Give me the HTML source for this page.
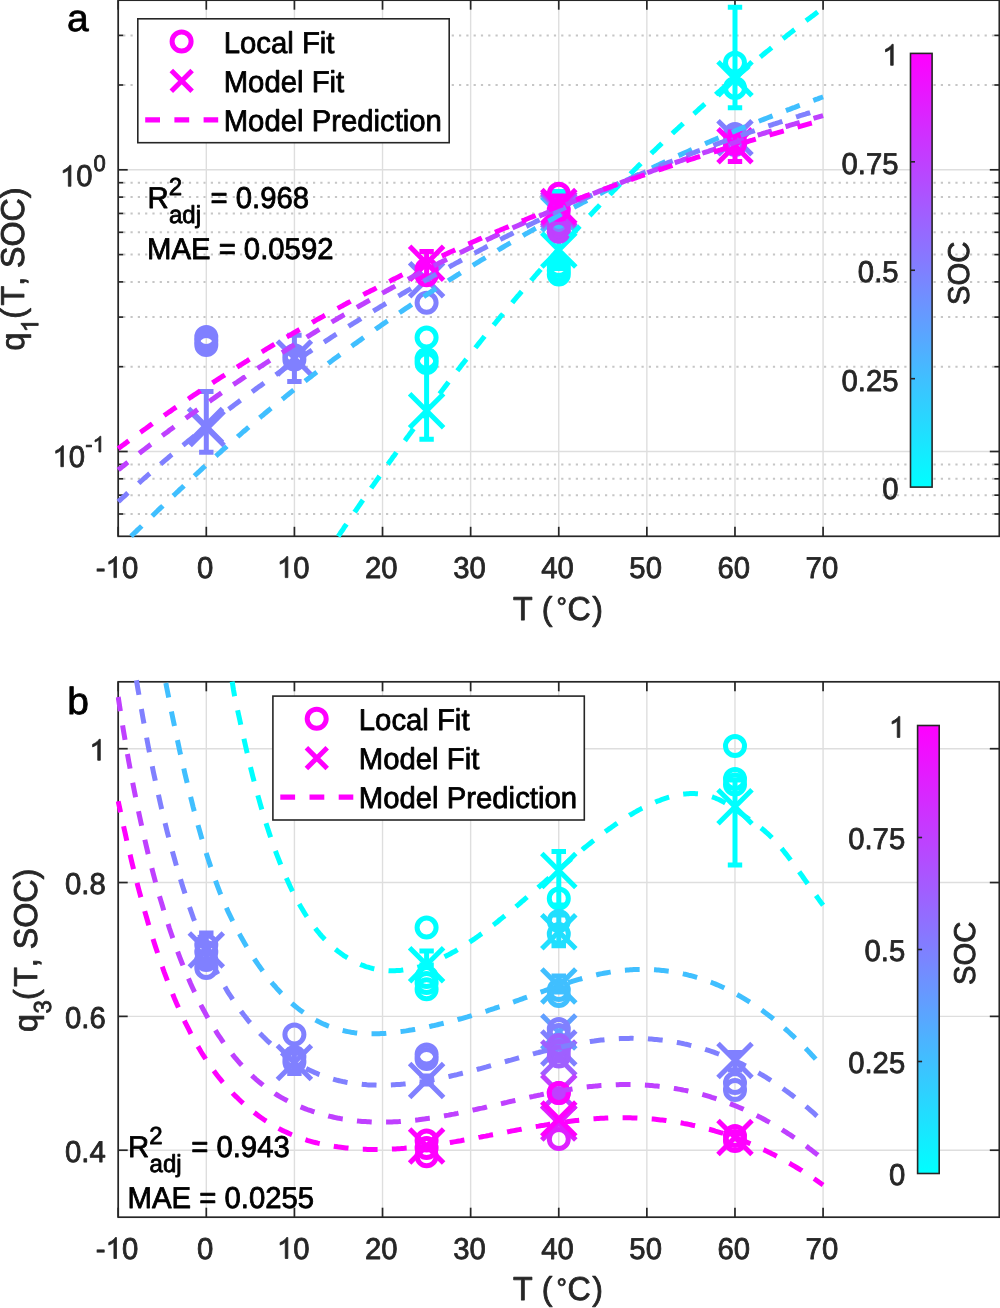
<!DOCTYPE html>
<html><head><meta charset="utf-8"><style>
html,body{margin:0;padding:0;background:#fff;width:1000px;height:1308px;overflow:hidden}
svg{display:block;will-change:transform;text-rendering:geometricPrecision;font-family:"Liberation Sans",sans-serif}
text{stroke-width:0.8px;stroke-linejoin:round;font-kerning:none}
</style></head><body>
<svg width="1000" height="1308" viewBox="0 0 1000 1308" font-family="Liberation Sans, sans-serif">
<defs>
<clipPath id="ca"><rect x="115.7" y="-2.3" width="886.1" height="541.1"/></clipPath>
<clipPath id="cb"><rect x="115.7" y="679.3" width="886.1" height="540.4"/></clipPath>
<linearGradient id="gcool" x1="0" y1="1" x2="0" y2="0"><stop offset="0" stop-color="#00FFFF"/><stop offset="1" stop-color="#FF00FF"/></linearGradient>
</defs>
<rect width="1000" height="1308" fill="#fff"/>
<line x1="122.20" y1="513.99" x2="999.30" y2="513.99" stroke="#C6C6C6" stroke-width="2" stroke-dasharray="2.2 5.1" stroke-dashoffset="-1"/>
<line x1="122.20" y1="495.14" x2="999.30" y2="495.14" stroke="#C6C6C6" stroke-width="2" stroke-dasharray="2.2 5.1" stroke-dashoffset="-1"/>
<line x1="122.20" y1="478.80" x2="999.30" y2="478.80" stroke="#C6C6C6" stroke-width="2" stroke-dasharray="2.2 5.1" stroke-dashoffset="-1"/>
<line x1="122.20" y1="464.39" x2="999.30" y2="464.39" stroke="#C6C6C6" stroke-width="2" stroke-dasharray="2.2 5.1" stroke-dashoffset="-1"/>
<line x1="122.20" y1="366.70" x2="999.30" y2="366.70" stroke="#C6C6C6" stroke-width="2" stroke-dasharray="2.2 5.1" stroke-dashoffset="-1"/>
<line x1="122.20" y1="317.09" x2="999.30" y2="317.09" stroke="#C6C6C6" stroke-width="2" stroke-dasharray="2.2 5.1" stroke-dashoffset="-1"/>
<line x1="122.20" y1="281.90" x2="999.30" y2="281.90" stroke="#C6C6C6" stroke-width="2" stroke-dasharray="2.2 5.1" stroke-dashoffset="-1"/>
<line x1="122.20" y1="254.60" x2="999.30" y2="254.60" stroke="#C6C6C6" stroke-width="2" stroke-dasharray="2.2 5.1" stroke-dashoffset="-1"/>
<line x1="122.20" y1="232.29" x2="999.30" y2="232.29" stroke="#C6C6C6" stroke-width="2" stroke-dasharray="2.2 5.1" stroke-dashoffset="-1"/>
<line x1="122.20" y1="213.44" x2="999.30" y2="213.44" stroke="#C6C6C6" stroke-width="2" stroke-dasharray="2.2 5.1" stroke-dashoffset="-1"/>
<line x1="122.20" y1="197.10" x2="999.30" y2="197.10" stroke="#C6C6C6" stroke-width="2" stroke-dasharray="2.2 5.1" stroke-dashoffset="-1"/>
<line x1="122.20" y1="182.69" x2="999.30" y2="182.69" stroke="#C6C6C6" stroke-width="2" stroke-dasharray="2.2 5.1" stroke-dashoffset="-1"/>
<line x1="122.20" y1="85.00" x2="999.30" y2="85.00" stroke="#C6C6C6" stroke-width="2" stroke-dasharray="2.2 5.1" stroke-dashoffset="-1"/>
<line x1="122.20" y1="35.39" x2="999.30" y2="35.39" stroke="#C6C6C6" stroke-width="2" stroke-dasharray="2.2 5.1" stroke-dashoffset="-1"/>
<line x1="118.20" y1="0.20" x2="118.20" y2="536.30" stroke="#DEDEDE" stroke-width="1.4"/>
<line x1="206.31" y1="0.20" x2="206.31" y2="536.30" stroke="#DEDEDE" stroke-width="1.4"/>
<line x1="294.42" y1="0.20" x2="294.42" y2="536.30" stroke="#DEDEDE" stroke-width="1.4"/>
<line x1="382.53" y1="0.20" x2="382.53" y2="536.30" stroke="#DEDEDE" stroke-width="1.4"/>
<line x1="470.64" y1="0.20" x2="470.64" y2="536.30" stroke="#DEDEDE" stroke-width="1.4"/>
<line x1="558.75" y1="0.20" x2="558.75" y2="536.30" stroke="#DEDEDE" stroke-width="1.4"/>
<line x1="646.86" y1="0.20" x2="646.86" y2="536.30" stroke="#DEDEDE" stroke-width="1.4"/>
<line x1="734.97" y1="0.20" x2="734.97" y2="536.30" stroke="#DEDEDE" stroke-width="1.4"/>
<line x1="823.08" y1="0.20" x2="823.08" y2="536.30" stroke="#DEDEDE" stroke-width="1.4"/>
<line x1="118.20" y1="451.50" x2="999.30" y2="451.50" stroke="#DEDEDE" stroke-width="1.4"/>
<line x1="118.20" y1="169.80" x2="999.30" y2="169.80" stroke="#DEDEDE" stroke-width="1.4"/>
<rect x="118.20" y="0.20" width="881.10" height="536.10" fill="none" stroke="#262626" stroke-width="1.7"/>
<line x1="118.20" y1="536.30" x2="118.20" y2="526.80" stroke="#262626" stroke-width="1.7"/>
<line x1="118.20" y1="0.20" x2="118.20" y2="9.70" stroke="#262626" stroke-width="1.7"/>
<line x1="206.31" y1="536.30" x2="206.31" y2="526.80" stroke="#262626" stroke-width="1.7"/>
<line x1="206.31" y1="0.20" x2="206.31" y2="9.70" stroke="#262626" stroke-width="1.7"/>
<line x1="294.42" y1="536.30" x2="294.42" y2="526.80" stroke="#262626" stroke-width="1.7"/>
<line x1="294.42" y1="0.20" x2="294.42" y2="9.70" stroke="#262626" stroke-width="1.7"/>
<line x1="382.53" y1="536.30" x2="382.53" y2="526.80" stroke="#262626" stroke-width="1.7"/>
<line x1="382.53" y1="0.20" x2="382.53" y2="9.70" stroke="#262626" stroke-width="1.7"/>
<line x1="470.64" y1="536.30" x2="470.64" y2="526.80" stroke="#262626" stroke-width="1.7"/>
<line x1="470.64" y1="0.20" x2="470.64" y2="9.70" stroke="#262626" stroke-width="1.7"/>
<line x1="558.75" y1="536.30" x2="558.75" y2="526.80" stroke="#262626" stroke-width="1.7"/>
<line x1="558.75" y1="0.20" x2="558.75" y2="9.70" stroke="#262626" stroke-width="1.7"/>
<line x1="646.86" y1="536.30" x2="646.86" y2="526.80" stroke="#262626" stroke-width="1.7"/>
<line x1="646.86" y1="0.20" x2="646.86" y2="9.70" stroke="#262626" stroke-width="1.7"/>
<line x1="734.97" y1="536.30" x2="734.97" y2="526.80" stroke="#262626" stroke-width="1.7"/>
<line x1="734.97" y1="0.20" x2="734.97" y2="9.70" stroke="#262626" stroke-width="1.7"/>
<line x1="823.08" y1="536.30" x2="823.08" y2="526.80" stroke="#262626" stroke-width="1.7"/>
<line x1="823.08" y1="0.20" x2="823.08" y2="9.70" stroke="#262626" stroke-width="1.7"/>
<line x1="118.20" y1="451.50" x2="127.70" y2="451.50" stroke="#262626" stroke-width="1.7"/>
<line x1="999.30" y1="451.50" x2="989.80" y2="451.50" stroke="#262626" stroke-width="1.7"/>
<line x1="118.20" y1="169.80" x2="127.70" y2="169.80" stroke="#262626" stroke-width="1.7"/>
<line x1="999.30" y1="169.80" x2="989.80" y2="169.80" stroke="#262626" stroke-width="1.7"/>
<line x1="118.20" y1="513.99" x2="123.20" y2="513.99" stroke="#262626" stroke-width="1.7"/>
<line x1="999.30" y1="513.99" x2="994.30" y2="513.99" stroke="#262626" stroke-width="1.7"/>
<line x1="118.20" y1="495.14" x2="123.20" y2="495.14" stroke="#262626" stroke-width="1.7"/>
<line x1="999.30" y1="495.14" x2="994.30" y2="495.14" stroke="#262626" stroke-width="1.7"/>
<line x1="118.20" y1="478.80" x2="123.20" y2="478.80" stroke="#262626" stroke-width="1.7"/>
<line x1="999.30" y1="478.80" x2="994.30" y2="478.80" stroke="#262626" stroke-width="1.7"/>
<line x1="118.20" y1="464.39" x2="123.20" y2="464.39" stroke="#262626" stroke-width="1.7"/>
<line x1="999.30" y1="464.39" x2="994.30" y2="464.39" stroke="#262626" stroke-width="1.7"/>
<line x1="118.20" y1="366.70" x2="123.20" y2="366.70" stroke="#262626" stroke-width="1.7"/>
<line x1="999.30" y1="366.70" x2="994.30" y2="366.70" stroke="#262626" stroke-width="1.7"/>
<line x1="118.20" y1="317.09" x2="123.20" y2="317.09" stroke="#262626" stroke-width="1.7"/>
<line x1="999.30" y1="317.09" x2="994.30" y2="317.09" stroke="#262626" stroke-width="1.7"/>
<line x1="118.20" y1="281.90" x2="123.20" y2="281.90" stroke="#262626" stroke-width="1.7"/>
<line x1="999.30" y1="281.90" x2="994.30" y2="281.90" stroke="#262626" stroke-width="1.7"/>
<line x1="118.20" y1="254.60" x2="123.20" y2="254.60" stroke="#262626" stroke-width="1.7"/>
<line x1="999.30" y1="254.60" x2="994.30" y2="254.60" stroke="#262626" stroke-width="1.7"/>
<line x1="118.20" y1="232.29" x2="123.20" y2="232.29" stroke="#262626" stroke-width="1.7"/>
<line x1="999.30" y1="232.29" x2="994.30" y2="232.29" stroke="#262626" stroke-width="1.7"/>
<line x1="118.20" y1="213.44" x2="123.20" y2="213.44" stroke="#262626" stroke-width="1.7"/>
<line x1="999.30" y1="213.44" x2="994.30" y2="213.44" stroke="#262626" stroke-width="1.7"/>
<line x1="118.20" y1="197.10" x2="123.20" y2="197.10" stroke="#262626" stroke-width="1.7"/>
<line x1="999.30" y1="197.10" x2="994.30" y2="197.10" stroke="#262626" stroke-width="1.7"/>
<line x1="118.20" y1="182.69" x2="123.20" y2="182.69" stroke="#262626" stroke-width="1.7"/>
<line x1="999.30" y1="182.69" x2="994.30" y2="182.69" stroke="#262626" stroke-width="1.7"/>
<line x1="118.20" y1="85.00" x2="123.20" y2="85.00" stroke="#262626" stroke-width="1.7"/>
<line x1="999.30" y1="85.00" x2="994.30" y2="85.00" stroke="#262626" stroke-width="1.7"/>
<line x1="118.20" y1="35.39" x2="123.20" y2="35.39" stroke="#262626" stroke-width="1.7"/>
<line x1="999.30" y1="35.39" x2="994.30" y2="35.39" stroke="#262626" stroke-width="1.7"/>
<circle cx="426.6" cy="337.6" r="9.5" fill="none" stroke="#00FFFF" stroke-width="5"/>
<circle cx="426.6" cy="359.0" r="9.5" fill="none" stroke="#00FFFF" stroke-width="5"/>
<circle cx="426.6" cy="363.0" r="9.5" fill="none" stroke="#00FFFF" stroke-width="5"/>
<path d="M426.6,352.0L426.6,439.2M419.4,352.0L433.8,352.0M419.4,439.2L433.8,439.2" stroke="#00FFFF" stroke-width="5" fill="none"/>
<path d="M409.6,393.7L443.6,427.7M409.6,427.7L443.6,393.7" stroke="#00FFFF" stroke-width="5" fill="none"/>
<circle cx="558.8" cy="266.0" r="9.5" fill="none" stroke="#00FFFF" stroke-width="5"/>
<circle cx="558.8" cy="270.5" r="9.5" fill="none" stroke="#00FFFF" stroke-width="5"/>
<circle cx="558.8" cy="274.5" r="9.5" fill="none" stroke="#00FFFF" stroke-width="5"/>
<path d="M558.8,191.5L558.8,268.5M551.5,191.5L566.0,191.5M551.5,268.5L566.0,268.5" stroke="#00FFFF" stroke-width="5" fill="none"/>
<path d="M541.8,233.1L575.8,267.1M541.8,267.1L575.8,233.1" stroke="#00FFFF" stroke-width="5" fill="none"/>
<circle cx="735.0" cy="62.7" r="9.5" fill="none" stroke="#00FFFF" stroke-width="5"/>
<circle cx="735.0" cy="87.9" r="9.5" fill="none" stroke="#00FFFF" stroke-width="5"/>
<path d="M735.0,7.3L735.0,107.8M727.8,7.3L742.2,7.3M727.8,107.8L742.2,107.8" stroke="#00FFFF" stroke-width="5" fill="none"/>
<path d="M718.0,61.7L752.0,95.7M718.0,95.7L752.0,61.7" stroke="#00FFFF" stroke-width="5" fill="none"/>
<path d="M541.8,197.0L575.8,231.0M541.8,231.0L575.8,197.0" stroke="#40BFFF" stroke-width="5" fill="none"/>
<circle cx="558.8" cy="218.0" r="9.5" fill="none" stroke="#40BFFF" stroke-width="5"/>
<circle cx="206.3" cy="337.0" r="9.5" fill="none" stroke="#8080FF" stroke-width="5"/>
<circle cx="206.3" cy="341.0" r="9.5" fill="none" stroke="#8080FF" stroke-width="5"/>
<circle cx="206.3" cy="345.0" r="9.5" fill="none" stroke="#8080FF" stroke-width="5"/>
<path d="M206.3,391.4L206.3,452.2M199.1,391.4L213.5,391.4M199.1,452.2L213.5,452.2" stroke="#8080FF" stroke-width="5" fill="none"/>
<path d="M188.5,408.5L222.5,442.5M188.5,442.5L222.5,408.5" stroke="#8080FF" stroke-width="5" fill="none"/>
<path d="M190.1,411.5L224.1,445.5M190.1,445.5L224.1,411.5" stroke="#8080FF" stroke-width="5" fill="none"/>
<circle cx="294.4" cy="355.3" r="9.5" fill="none" stroke="#8080FF" stroke-width="5"/>
<circle cx="294.4" cy="359.5" r="9.5" fill="none" stroke="#8080FF" stroke-width="5"/>
<path d="M294.4,335.2L294.4,381.5M287.2,335.2L301.6,335.2M287.2,381.5L301.6,381.5" stroke="#8080FF" stroke-width="5" fill="none"/>
<path d="M277.4,341.0L311.4,375.0M277.4,375.0L311.4,341.0" stroke="#8080FF" stroke-width="5" fill="none"/>
<circle cx="426.6" cy="302.8" r="9.5" fill="none" stroke="#8080FF" stroke-width="5"/>
<path d="M409.6,262.7L443.6,296.7M409.6,296.7L443.6,262.7" stroke="#8080FF" stroke-width="5" fill="none"/>
<path d="M541.8,194.0L575.8,228.0M541.8,228.0L575.8,194.0" stroke="#8080FF" stroke-width="5" fill="none"/>
<circle cx="558.8" cy="222.0" r="9.5" fill="none" stroke="#8080FF" stroke-width="5"/>
<path d="M735.0,128.5L735.0,150.0M727.8,128.5L742.2,128.5M727.8,150.0L742.2,150.0" stroke="#8080FF" stroke-width="5" fill="none"/>
<circle cx="735.0" cy="134.0" r="9.5" fill="none" stroke="#8080FF" stroke-width="5"/>
<circle cx="735.0" cy="145.0" r="9.5" fill="none" stroke="#8080FF" stroke-width="5"/>
<path d="M718.0,120.7L752.0,154.7M718.0,154.7L752.0,120.7" stroke="#8080FF" stroke-width="5" fill="none"/>
<path d="M558.8,197.5L558.8,221.0M551.5,197.5L566.0,197.5M551.5,221.0L566.0,221.0" stroke="#BF40FF" stroke-width="5" fill="none"/>
<path d="M541.8,192.0L575.8,226.0M541.8,226.0L575.8,192.0" stroke="#BF40FF" stroke-width="5" fill="none"/>
<circle cx="558.8" cy="225.0" r="9.5" fill="none" stroke="#BF40FF" stroke-width="5"/>
<circle cx="558.8" cy="228.5" r="9.5" fill="none" stroke="#BF40FF" stroke-width="5"/>
<circle cx="558.8" cy="231.8" r="9.5" fill="none" stroke="#BF40FF" stroke-width="5"/>
<circle cx="735.0" cy="141.0" r="9.5" fill="none" stroke="#BF40FF" stroke-width="5"/>
<circle cx="426.6" cy="269.3" r="9.5" fill="none" stroke="#FF00FF" stroke-width="5"/>
<circle cx="426.6" cy="275.2" r="9.5" fill="none" stroke="#FF00FF" stroke-width="5"/>
<path d="M426.6,251.4L426.6,276.0M419.4,251.4L433.8,251.4M419.4,276.0L433.8,276.0" stroke="#FF00FF" stroke-width="5" fill="none"/>
<path d="M409.6,246.3L443.6,280.3M409.6,280.3L443.6,246.3" stroke="#FF00FF" stroke-width="5" fill="none"/>
<circle cx="558.8" cy="193.8" r="9.5" fill="none" stroke="#FF00FF" stroke-width="5"/>
<circle cx="558.8" cy="210.0" r="9.5" fill="none" stroke="#FF00FF" stroke-width="5"/>
<path d="M558.8,196.0L558.8,218.0M551.5,196.0L566.0,196.0M551.5,218.0L566.0,218.0" stroke="#FF00FF" stroke-width="5" fill="none"/>
<path d="M541.8,189.5L575.8,223.5M541.8,223.5L575.8,189.5" stroke="#FF00FF" stroke-width="5" fill="none"/>
<circle cx="735.0" cy="144.0" r="9.5" fill="none" stroke="#FF00FF" stroke-width="5"/>
<path d="M735.0,132.0L735.0,161.5M727.8,132.0L742.2,132.0M727.8,161.5L742.2,161.5" stroke="#FF00FF" stroke-width="5" fill="none"/>
<path d="M718.0,128.8L752.0,162.8M718.0,162.8L752.0,128.8" stroke="#FF00FF" stroke-width="5" fill="none"/>
<path d="M330.0,548.7 L331.2,546.8 L332.5,545.0 L333.7,543.1 L334.9,541.3 L336.2,539.4 L337.4,537.6 L338.7,535.7 L339.9,533.9 L341.1,532.0 L342.4,530.2 L343.6,528.4 L344.8,526.5 L346.1,524.7 L347.3,522.9 L348.5,521.1 L349.8,519.2 L351.0,517.4 L352.2,515.6 L353.5,513.8 L354.7,512.0 L356.0,510.2 L357.2,508.4 L358.4,506.6 L359.7,504.8 L360.9,503.0 L362.1,501.2 L363.4,499.4 L364.6,497.6 L365.8,495.8 L367.1,494.0 L368.3,492.2 L369.5,490.4 L370.8,488.7 L372.0,486.9 L373.3,485.1 L374.5,483.3 L375.7,481.6 L377.0,479.8 L378.2,478.1 L379.4,476.3 L380.7,474.5 L381.9,472.8 L383.1,471.0 L384.4,469.3 L385.6,467.5 L386.8,465.8 L388.1,464.1 L389.3,462.3 L390.6,460.6 L391.8,458.8 L393.0,457.1 L394.3,455.4 L395.5,453.7 L396.7,451.9 L398.0,450.2 L399.2,448.5 L400.4,446.8 L401.7,445.1 L402.9,443.4 L404.1,441.7 L405.4,440.0 L406.6,438.3 L407.9,436.6 L409.1,434.9 L410.3,433.2 L411.6,431.5 L412.8,429.8 L414.0,428.1 L415.3,426.4 L416.5,424.7 L417.7,423.1 L419.0,421.4 L420.2,419.7 L421.4,418.0 L422.7,416.4 L423.9,414.7 L425.2,413.1 L426.4,411.4 L427.6,409.7 L428.9,408.1 L430.1,406.4 L431.3,404.8 L432.6,403.1 L433.8,401.5 L435.0,399.9 L436.3,398.2 L437.5,396.6 L438.7,395.0 L440.0,393.3 L441.2,391.7 L442.5,390.1 L443.7,388.4 L444.9,386.8 L446.2,385.2 L447.4,383.6 L448.6,382.0 L449.9,380.4 L451.1,378.8 L452.3,377.2 L453.6,375.6 L454.8,374.0 L456.1,372.4 L457.3,370.8 L458.5,369.2 L459.8,367.6 L461.0,366.0 L462.2,364.4 L463.5,362.9 L464.7,361.3 L465.9,359.7 L467.2,358.1 L468.4,356.6 L469.6,355.0 L470.9,353.4 L472.1,351.9 L473.4,350.3 L474.6,348.8 L475.8,347.2 L477.1,345.7 L478.3,344.1 L479.5,342.6 L480.8,341.0 L482.0,339.5 L483.2,338.0 L484.5,336.4 L485.7,334.9 L486.9,333.4 L488.2,331.8 L489.4,330.3 L490.7,328.8 L491.9,327.3 L493.1,325.8 L494.4,324.2 L495.6,322.7 L496.8,321.2 L498.1,319.7 L499.3,318.2 L500.5,316.7 L501.8,315.2 L503.0,313.7 L504.2,312.2 L505.5,310.8 L506.7,309.3 L508.0,307.8 L509.2,306.3 L510.4,304.8 L511.7,303.4 L512.9,301.9 L514.1,300.4 L515.4,298.9 L516.6,297.5 L517.8,296.0 L519.1,294.6 L520.3,293.1 L521.5,291.6 L522.8,290.2 L524.0,288.8 L525.3,287.3 L526.5,285.9 L527.7,284.4 L529.0,283.0 L530.2,281.6 L531.4,280.1 L532.7,278.7 L533.9,277.3 L535.1,275.8 L536.4,274.4 L537.6,273.0 L538.8,271.6 L540.1,270.2 L541.3,268.8 L542.6,267.4 L543.8,265.9 L545.0,264.5 L546.3,263.1 L547.5,261.8 L548.7,260.4 L550.0,259.0 L551.2,257.6 L552.4,256.2 L553.7,254.8 L554.9,253.4 L556.1,252.0 L557.4,250.7 L558.6,249.3 L559.9,247.9 L561.1,246.6 L562.3,245.2 L563.6,243.8 L564.8,242.5 L566.0,241.1 L567.3,239.8 L568.5,238.4 L569.7,237.1 L571.0,235.7 L572.2,234.4 L573.5,233.0 L574.7,231.7 L575.9,230.3 L577.2,229.0 L578.4,227.7 L579.6,226.3 L580.9,225.0 L582.1,223.7 L583.3,222.4 L584.6,221.1 L585.8,219.7 L587.0,218.4 L588.3,217.1 L589.5,215.8 L590.8,214.5 L592.0,213.2 L593.2,211.9 L594.5,210.6 L595.7,209.3 L596.9,208.0 L598.2,206.7 L599.4,205.4 L600.6,204.1 L601.9,202.8 L603.1,201.6 L604.3,200.3 L605.6,199.0 L606.8,197.7 L608.1,196.5 L609.3,195.2 L610.5,193.9 L611.8,192.7 L613.0,191.4 L614.2,190.1 L615.5,188.9 L616.7,187.6 L617.9,186.4 L619.2,185.1 L620.4,183.9 L621.6,182.6 L622.9,181.4 L624.1,180.1 L625.4,178.9 L626.6,177.7 L627.8,176.4 L629.1,175.2 L630.3,174.0 L631.5,172.7 L632.8,171.5 L634.0,170.3 L635.2,169.1 L636.5,167.9 L637.7,166.6 L638.9,165.4 L640.2,164.2 L641.4,163.0 L642.7,161.8 L643.9,160.6 L645.1,159.4 L646.4,158.2 L647.6,157.0 L648.8,155.8 L650.1,154.6 L651.3,153.4 L652.5,152.2 L653.8,151.1 L655.0,149.9 L656.2,148.7 L657.5,147.5 L658.7,146.3 L660.0,145.2 L661.2,144.0 L662.4,142.8 L663.7,141.7 L664.9,140.5 L666.1,139.3 L667.4,138.2 L668.6,137.0 L669.8,135.9 L671.1,134.7 L672.3,133.5 L673.5,132.4 L674.8,131.2 L676.0,130.1 L677.3,129.0 L678.5,127.8 L679.7,126.7 L681.0,125.5 L682.2,124.4 L683.4,123.3 L684.7,122.1 L685.9,121.0 L687.1,119.9 L688.4,118.8 L689.6,117.6 L690.9,116.5 L692.1,115.4 L693.3,114.3 L694.6,113.2 L695.8,112.1 L697.0,111.0 L698.3,109.8 L699.5,108.7 L700.7,107.6 L702.0,106.5 L703.2,105.4 L704.4,104.3 L705.7,103.2 L706.9,102.2 L708.2,101.1 L709.4,100.0 L710.6,98.9 L711.9,97.8 L713.1,96.7 L714.3,95.6 L715.6,94.6 L716.8,93.5 L718.0,92.4 L719.3,91.3 L720.5,90.3 L721.7,89.2 L723.0,88.1 L724.2,87.1 L725.5,86.0 L726.7,85.0 L727.9,83.9 L729.2,82.8 L730.4,81.8 L731.6,80.7 L732.9,79.7 L734.1,78.6 L735.3,77.6 L736.6,76.5 L737.8,75.5 L739.0,74.5 L740.3,73.4 L741.5,72.4 L742.8,71.3 L744.0,70.3 L745.2,69.3 L746.5,68.3 L747.7,67.2 L748.9,66.2 L750.2,65.2 L751.4,64.2 L752.6,63.1 L753.9,62.1 L755.1,61.1 L756.3,60.1 L757.6,59.1 L758.8,58.1 L760.1,57.1 L761.3,56.1 L762.5,55.1 L763.8,54.0 L765.0,53.0 L766.2,52.0 L767.5,51.1 L768.7,50.1 L769.9,49.1 L771.2,48.1 L772.4,47.1 L773.6,46.1 L774.9,45.1 L776.1,44.1 L777.4,43.1 L778.6,42.2 L779.8,41.2 L781.1,40.2 L782.3,39.2 L783.5,38.3 L784.8,37.3 L786.0,36.3 L787.2,35.3 L788.5,34.4 L789.7,33.4 L790.9,32.4 L792.2,31.5 L793.4,30.5 L794.7,29.6 L795.9,28.6 L797.1,27.7 L798.4,26.7 L799.6,25.8 L800.8,24.8 L802.1,23.9 L803.3,22.9 L804.5,22.0 L805.8,21.0 L807.0,20.1 L808.3,19.1 L809.5,18.2 L810.7,17.3 L812.0,16.3 L813.2,15.4 L814.4,14.5 L815.7,13.5 L816.9,12.6 L818.1,11.7 L819.4,10.8 L820.6,9.8 L821.8,8.9 L823.1,8.0" fill="none" stroke="#00FFFF" stroke-width="5" stroke-dasharray="14.80 14.35" stroke-dashoffset="14.29" clip-path="url(#ca)"/>
<path d="M118.2,548.5 L120.0,546.8 L121.7,545.1 L123.5,543.4 L125.3,541.7 L127.0,540.1 L128.8,538.4 L130.6,536.7 L132.3,535.0 L134.1,533.3 L135.9,531.6 L137.6,529.9 L139.4,528.2 L141.2,526.5 L142.9,524.8 L144.7,523.1 L146.5,521.4 L148.2,519.7 L150.0,518.1 L151.8,516.4 L153.5,514.7 L155.3,513.0 L157.1,511.3 L158.8,509.6 L160.6,507.9 L162.4,506.2 L164.1,504.5 L165.9,502.9 L167.7,501.2 L169.4,499.5 L171.2,497.8 L173.0,496.1 L174.7,494.5 L176.5,492.8 L178.3,491.1 L180.0,489.4 L181.8,487.8 L183.6,486.1 L185.3,484.4 L187.1,482.8 L188.9,481.1 L190.6,479.5 L192.4,477.8 L194.2,476.2 L195.9,474.5 L197.7,472.9 L199.5,471.2 L201.2,469.6 L203.0,467.9 L204.8,466.3 L206.5,464.7 L208.3,463.1 L210.1,461.4 L211.8,459.8 L213.6,458.2 L215.4,456.6 L217.1,455.0 L218.9,453.4 L220.7,451.8 L222.4,450.2 L224.2,448.6 L226.0,447.1 L227.7,445.5 L229.5,443.9 L231.3,442.3 L233.0,440.8 L234.8,439.2 L236.6,437.7 L238.3,436.1 L240.1,434.6 L241.9,433.0 L243.6,431.5 L245.4,430.0 L247.2,428.4 L248.9,426.9 L250.7,425.4 L252.5,423.9 L254.2,422.4 L256.0,420.9 L257.8,419.4 L259.5,417.9 L261.3,416.4 L263.1,415.0 L264.8,413.5 L266.6,412.0 L268.4,410.5 L270.1,409.1 L271.9,407.6 L273.7,406.2 L275.4,404.7 L277.2,403.3 L279.0,401.8 L280.7,400.4 L282.5,399.0 L284.3,397.6 L286.0,396.1 L287.8,394.7 L289.6,393.3 L291.3,391.9 L293.1,390.5 L294.9,389.1 L296.6,387.7 L298.4,386.3 L300.2,384.9 L301.9,383.5 L303.7,382.2 L305.5,380.8 L307.2,379.4 L309.0,378.1 L310.8,376.7 L312.5,375.3 L314.3,374.0 L316.1,372.6 L317.8,371.3 L319.6,369.9 L321.4,368.6 L323.1,367.3 L324.9,365.9 L326.7,364.6 L328.4,363.3 L330.2,362.0 L332.0,360.6 L333.7,359.3 L335.5,358.0 L337.3,356.7 L339.0,355.4 L340.8,354.1 L342.6,352.8 L344.3,351.5 L346.1,350.2 L347.9,349.0 L349.6,347.7 L351.4,346.4 L353.2,345.1 L354.9,343.8 L356.7,342.6 L358.5,341.3 L360.2,340.1 L362.0,338.8 L363.8,337.5 L365.5,336.3 L367.3,335.0 L369.1,333.8 L370.8,332.5 L372.6,331.3 L374.4,330.1 L376.1,328.8 L377.9,327.6 L379.7,326.4 L381.4,325.1 L383.2,323.9 L385.0,322.7 L386.7,321.5 L388.5,320.3 L390.3,319.0 L392.0,317.8 L393.8,316.6 L395.6,315.4 L397.3,314.2 L399.1,313.0 L400.9,311.8 L402.6,310.6 L404.4,309.4 L406.2,308.2 L407.9,307.1 L409.7,305.9 L411.5,304.7 L413.2,303.5 L415.0,302.3 L416.8,301.2 L418.5,300.0 L420.3,298.8 L422.1,297.7 L423.8,296.5 L425.6,295.4 L427.4,294.2 L429.1,293.0 L430.9,291.9 L432.7,290.7 L434.4,289.6 L436.2,288.5 L438.0,287.3 L439.7,286.2 L441.5,285.0 L443.3,283.9 L445.0,282.8 L446.8,281.7 L448.6,280.5 L450.3,279.4 L452.1,278.3 L453.9,277.2 L455.6,276.1 L457.4,274.9 L459.2,273.8 L460.9,272.7 L462.7,271.6 L464.5,270.5 L466.2,269.4 L468.0,268.3 L469.8,267.2 L471.5,266.2 L473.3,265.1 L475.1,264.0 L476.8,262.9 L478.6,261.8 L480.4,260.7 L482.1,259.7 L483.9,258.6 L485.7,257.5 L487.4,256.5 L489.2,255.4 L491.0,254.3 L492.7,253.3 L494.5,252.2 L496.3,251.2 L498.0,250.1 L499.8,249.1 L501.6,248.0 L503.3,247.0 L505.1,245.9 L506.9,244.9 L508.6,243.9 L510.4,242.8 L512.2,241.8 L513.9,240.8 L515.7,239.7 L517.5,238.7 L519.2,237.7 L521.0,236.7 L522.8,235.7 L524.5,234.6 L526.3,233.6 L528.1,232.6 L529.8,231.6 L531.6,230.6 L533.4,229.6 L535.1,228.6 L536.9,227.6 L538.7,226.6 L540.4,225.6 L542.2,224.6 L544.0,223.7 L545.7,222.7 L547.5,221.7 L549.3,220.7 L551.0,219.7 L552.8,218.8 L554.6,217.8 L556.3,216.8 L558.1,215.9 L559.9,214.9 L561.6,213.9 L563.4,213.0 L565.2,212.0 L566.9,211.1 L568.7,210.1 L570.5,209.2 L572.2,208.2 L574.0,207.3 L575.8,206.3 L577.5,205.4 L579.3,204.5 L581.1,203.5 L582.8,202.6 L584.6,201.7 L586.4,200.7 L588.1,199.8 L589.9,198.9 L591.7,198.0 L593.4,197.0 L595.2,196.1 L597.0,195.2 L598.7,194.3 L600.5,193.4 L602.3,192.5 L604.0,191.6 L605.8,190.7 L607.6,189.8 L609.3,188.9 L611.1,188.0 L612.9,187.1 L614.6,186.2 L616.4,185.3 L618.2,184.4 L619.9,183.6 L621.7,182.7 L623.5,181.8 L625.2,180.9 L627.0,180.0 L628.8,179.2 L630.5,178.3 L632.3,177.4 L634.1,176.6 L635.8,175.7 L637.6,174.9 L639.4,174.0 L641.1,173.1 L642.9,172.3 L644.7,171.4 L646.4,170.6 L648.2,169.7 L650.0,168.9 L651.7,168.1 L653.5,167.2 L655.3,166.4 L657.0,165.6 L658.8,164.7 L660.6,163.9 L662.3,163.1 L664.1,162.2 L665.9,161.4 L667.6,160.6 L669.4,159.8 L671.2,159.0 L672.9,158.1 L674.7,157.3 L676.5,156.5 L678.2,155.7 L680.0,154.9 L681.8,154.1 L683.5,153.3 L685.3,152.5 L687.1,151.7 L688.8,150.9 L690.6,150.1 L692.4,149.3 L694.1,148.6 L695.9,147.8 L697.7,147.0 L699.4,146.2 L701.2,145.4 L703.0,144.7 L704.7,143.9 L706.5,143.1 L708.2,142.3 L710.0,141.6 L711.8,140.8 L713.5,140.0 L715.3,139.3 L717.1,138.5 L718.8,137.8 L720.6,137.0 L722.4,136.3 L724.1,135.5 L725.9,134.8 L727.7,134.0 L729.4,133.3 L731.2,132.5 L733.0,131.8 L734.7,131.1 L736.5,130.3 L738.3,129.6 L740.0,128.9 L741.8,128.1 L743.6,127.4 L745.3,126.7 L747.1,126.0 L748.9,125.2 L750.6,124.5 L752.4,123.8 L754.2,123.1 L755.9,122.4 L757.7,121.7 L759.5,121.0 L761.2,120.3 L763.0,119.6 L764.8,118.9 L766.5,118.2 L768.3,117.5 L770.1,116.8 L771.8,116.1 L773.6,115.4 L775.4,114.7 L777.1,114.0 L778.9,113.3 L780.7,112.6 L782.4,112.0 L784.2,111.3 L786.0,110.6 L787.7,109.9 L789.5,109.3 L791.3,108.6 L793.0,107.9 L794.8,107.3 L796.6,106.6 L798.3,105.9 L800.1,105.3 L801.9,104.6 L803.6,104.0 L805.4,103.3 L807.2,102.6 L808.9,102.0 L810.7,101.4 L812.5,100.7 L814.2,100.1 L816.0,99.4 L817.8,98.8 L819.5,98.1 L821.3,97.5 L823.1,96.9" fill="none" stroke="#40BFFF" stroke-width="5" stroke-dasharray="14.80 14.35" stroke-dashoffset="11.33" clip-path="url(#ca)"/>
<path d="M118.2,501.7 L120.0,500.1 L121.7,498.5 L123.5,496.9 L125.3,495.3 L127.0,493.7 L128.8,492.1 L130.6,490.5 L132.3,488.9 L134.1,487.3 L135.9,485.7 L137.6,484.2 L139.4,482.6 L141.2,481.0 L142.9,479.5 L144.7,477.9 L146.5,476.4 L148.2,474.8 L150.0,473.3 L151.8,471.7 L153.5,470.2 L155.3,468.7 L157.1,467.2 L158.8,465.6 L160.6,464.1 L162.4,462.6 L164.1,461.1 L165.9,459.6 L167.7,458.1 L169.4,456.6 L171.2,455.1 L173.0,453.7 L174.7,452.2 L176.5,450.7 L178.3,449.2 L180.0,447.8 L181.8,446.3 L183.6,444.9 L185.3,443.4 L187.1,442.0 L188.9,440.5 L190.6,439.1 L192.4,437.6 L194.2,436.2 L195.9,434.8 L197.7,433.4 L199.5,432.0 L201.2,430.6 L203.0,429.1 L204.8,427.7 L206.5,426.3 L208.3,425.0 L210.1,423.6 L211.8,422.2 L213.6,420.8 L215.4,419.4 L217.1,418.1 L218.9,416.7 L220.7,415.3 L222.4,414.0 L224.2,412.6 L226.0,411.3 L227.7,409.9 L229.5,408.6 L231.3,407.2 L233.0,405.9 L234.8,404.6 L236.6,403.2 L238.3,401.9 L240.1,400.6 L241.9,399.3 L243.6,398.0 L245.4,396.7 L247.2,395.4 L248.9,394.1 L250.7,392.8 L252.5,391.5 L254.2,390.2 L256.0,388.9 L257.8,387.6 L259.5,386.3 L261.3,385.1 L263.1,383.8 L264.8,382.5 L266.6,381.3 L268.4,380.0 L270.1,378.8 L271.9,377.5 L273.7,376.3 L275.4,375.0 L277.2,373.8 L279.0,372.5 L280.7,371.3 L282.5,370.1 L284.3,368.8 L286.0,367.6 L287.8,366.4 L289.6,365.2 L291.3,364.0 L293.1,362.8 L294.9,361.6 L296.6,360.4 L298.4,359.2 L300.2,358.0 L301.9,356.8 L303.7,355.6 L305.5,354.4 L307.2,353.2 L309.0,352.0 L310.8,350.9 L312.5,349.7 L314.3,348.5 L316.1,347.3 L317.8,346.2 L319.6,345.0 L321.4,343.9 L323.1,342.7 L324.9,341.6 L326.7,340.4 L328.4,339.3 L330.2,338.1 L332.0,337.0 L333.7,335.8 L335.5,334.7 L337.3,333.6 L339.0,332.4 L340.8,331.3 L342.6,330.2 L344.3,329.1 L346.1,328.0 L347.9,326.8 L349.6,325.7 L351.4,324.6 L353.2,323.5 L354.9,322.4 L356.7,321.3 L358.5,320.2 L360.2,319.1 L362.0,318.0 L363.8,316.9 L365.5,315.8 L367.3,314.7 L369.1,313.7 L370.8,312.6 L372.6,311.5 L374.4,310.4 L376.1,309.4 L377.9,308.3 L379.7,307.2 L381.4,306.1 L383.2,305.1 L385.0,304.0 L386.7,303.0 L388.5,301.9 L390.3,300.8 L392.0,299.8 L393.8,298.7 L395.6,297.7 L397.3,296.6 L399.1,295.6 L400.9,294.6 L402.6,293.5 L404.4,292.5 L406.2,291.4 L407.9,290.4 L409.7,289.4 L411.5,288.3 L413.2,287.3 L415.0,286.3 L416.8,285.3 L418.5,284.3 L420.3,283.2 L422.1,282.2 L423.8,281.2 L425.6,280.2 L427.4,279.2 L429.1,278.2 L430.9,277.2 L432.7,276.2 L434.4,275.2 L436.2,274.2 L438.0,273.2 L439.7,272.2 L441.5,271.2 L443.3,270.2 L445.0,269.2 L446.8,268.3 L448.6,267.3 L450.3,266.3 L452.1,265.3 L453.9,264.4 L455.6,263.4 L457.4,262.4 L459.2,261.5 L460.9,260.5 L462.7,259.5 L464.5,258.6 L466.2,257.6 L468.0,256.7 L469.8,255.7 L471.5,254.8 L473.3,253.8 L475.1,252.9 L476.8,251.9 L478.6,251.0 L480.4,250.0 L482.1,249.1 L483.9,248.2 L485.7,247.2 L487.4,246.3 L489.2,245.4 L491.0,244.4 L492.7,243.5 L494.5,242.6 L496.3,241.7 L498.0,240.8 L499.8,239.8 L501.6,238.9 L503.3,238.0 L505.1,237.1 L506.9,236.2 L508.6,235.3 L510.4,234.4 L512.2,233.5 L513.9,232.6 L515.7,231.7 L517.5,230.8 L519.2,229.9 L521.0,229.0 L522.8,228.2 L524.5,227.3 L526.3,226.4 L528.1,225.5 L529.8,224.6 L531.6,223.8 L533.4,222.9 L535.1,222.0 L536.9,221.1 L538.7,220.3 L540.4,219.4 L542.2,218.6 L544.0,217.7 L545.7,216.8 L547.5,216.0 L549.3,215.1 L551.0,214.3 L552.8,213.4 L554.6,212.6 L556.3,211.7 L558.1,210.9 L559.9,210.1 L561.6,209.2 L563.4,208.4 L565.2,207.6 L566.9,206.7 L568.7,205.9 L570.5,205.1 L572.2,204.2 L574.0,203.4 L575.8,202.6 L577.5,201.8 L579.3,201.0 L581.1,200.2 L582.8,199.3 L584.6,198.5 L586.4,197.7 L588.1,196.9 L589.9,196.1 L591.7,195.3 L593.4,194.5 L595.2,193.7 L597.0,192.9 L598.7,192.1 L600.5,191.4 L602.3,190.6 L604.0,189.8 L605.8,189.0 L607.6,188.2 L609.3,187.4 L611.1,186.7 L612.9,185.9 L614.6,185.1 L616.4,184.3 L618.2,183.6 L619.9,182.8 L621.7,182.0 L623.5,181.3 L625.2,180.5 L627.0,179.8 L628.8,179.0 L630.5,178.3 L632.3,177.5 L634.1,176.8 L635.8,176.0 L637.6,175.3 L639.4,174.5 L641.1,173.8 L642.9,173.0 L644.7,172.3 L646.4,171.6 L648.2,170.8 L650.0,170.1 L651.7,169.4 L653.5,168.7 L655.3,167.9 L657.0,167.2 L658.8,166.5 L660.6,165.8 L662.3,165.1 L664.1,164.4 L665.9,163.6 L667.6,162.9 L669.4,162.2 L671.2,161.5 L672.9,160.8 L674.7,160.1 L676.5,159.4 L678.2,158.7 L680.0,158.0 L681.8,157.3 L683.5,156.7 L685.3,156.0 L687.1,155.3 L688.8,154.6 L690.6,153.9 L692.4,153.2 L694.1,152.6 L695.9,151.9 L697.7,151.2 L699.4,150.5 L701.2,149.9 L703.0,149.2 L704.7,148.5 L706.5,147.9 L708.2,147.2 L710.0,146.6 L711.8,145.9 L713.5,145.2 L715.3,144.6 L717.1,143.9 L718.8,143.3 L720.6,142.7 L722.4,142.0 L724.1,141.4 L725.9,140.7 L727.7,140.1 L729.4,139.5 L731.2,138.8 L733.0,138.2 L734.7,137.6 L736.5,136.9 L738.3,136.3 L740.0,135.7 L741.8,135.1 L743.6,134.4 L745.3,133.8 L747.1,133.2 L748.9,132.6 L750.6,132.0 L752.4,131.4 L754.2,130.8 L755.9,130.2 L757.7,129.6 L759.5,129.0 L761.2,128.4 L763.0,127.8 L764.8,127.2 L766.5,126.6 L768.3,126.0 L770.1,125.4 L771.8,124.8 L773.6,124.2 L775.4,123.7 L777.1,123.1 L778.9,122.5 L780.7,121.9 L782.4,121.3 L784.2,120.8 L786.0,120.2 L787.7,119.6 L789.5,119.1 L791.3,118.5 L793.0,117.9 L794.8,117.4 L796.6,116.8 L798.3,116.3 L800.1,115.7 L801.9,115.2 L803.6,114.6 L805.4,114.1 L807.2,113.5 L808.9,113.0 L810.7,112.4 L812.5,111.9 L814.2,111.4 L816.0,110.8 L817.8,110.3 L819.5,109.8 L821.3,109.2 L823.1,108.7" fill="none" stroke="#8080FF" stroke-width="5" stroke-dasharray="14.80 14.35" stroke-dashoffset="1.60" clip-path="url(#ca)"/>
<path d="M118.2,469.9 L120.0,468.5 L121.7,467.1 L123.5,465.7 L125.3,464.3 L127.0,462.9 L128.8,461.5 L130.6,460.1 L132.3,458.7 L134.1,457.3 L135.9,455.9 L137.6,454.6 L139.4,453.2 L141.2,451.8 L142.9,450.5 L144.7,449.1 L146.5,447.7 L148.2,446.4 L150.0,445.0 L151.8,443.7 L153.5,442.3 L155.3,441.0 L157.1,439.6 L158.8,438.3 L160.6,437.0 L162.4,435.6 L164.1,434.3 L165.9,433.0 L167.7,431.7 L169.4,430.3 L171.2,429.0 L173.0,427.7 L174.7,426.4 L176.5,425.1 L178.3,423.8 L180.0,422.5 L181.8,421.2 L183.6,419.9 L185.3,418.6 L187.1,417.3 L188.9,416.0 L190.6,414.8 L192.4,413.5 L194.2,412.2 L195.9,410.9 L197.7,409.7 L199.5,408.4 L201.2,407.1 L203.0,405.9 L204.8,404.6 L206.5,403.4 L208.3,402.1 L210.1,400.9 L211.8,399.6 L213.6,398.4 L215.4,397.1 L217.1,395.9 L218.9,394.7 L220.7,393.4 L222.4,392.2 L224.2,391.0 L226.0,389.8 L227.7,388.6 L229.5,387.4 L231.3,386.1 L233.0,384.9 L234.8,383.7 L236.6,382.5 L238.3,381.3 L240.1,380.1 L241.9,378.9 L243.6,377.7 L245.4,376.6 L247.2,375.4 L248.9,374.2 L250.7,373.0 L252.5,371.8 L254.2,370.7 L256.0,369.5 L257.8,368.3 L259.5,367.2 L261.3,366.0 L263.1,364.9 L264.8,363.7 L266.6,362.5 L268.4,361.4 L270.1,360.3 L271.9,359.1 L273.7,358.0 L275.4,356.8 L277.2,355.7 L279.0,354.6 L280.7,353.4 L282.5,352.3 L284.3,351.2 L286.0,350.1 L287.8,348.9 L289.6,347.8 L291.3,346.7 L293.1,345.6 L294.9,344.5 L296.6,343.4 L298.4,342.3 L300.2,341.2 L301.9,340.1 L303.7,339.0 L305.5,337.9 L307.2,336.8 L309.0,335.8 L310.8,334.7 L312.5,333.6 L314.3,332.5 L316.1,331.4 L317.8,330.4 L319.6,329.3 L321.4,328.2 L323.1,327.2 L324.9,326.1 L326.7,325.1 L328.4,324.0 L330.2,323.0 L332.0,321.9 L333.7,320.9 L335.5,319.8 L337.3,318.8 L339.0,317.7 L340.8,316.7 L342.6,315.7 L344.3,314.6 L346.1,313.6 L347.9,312.6 L349.6,311.6 L351.4,310.5 L353.2,309.5 L354.9,308.5 L356.7,307.5 L358.5,306.5 L360.2,305.5 L362.0,304.5 L363.8,303.5 L365.5,302.5 L367.3,301.5 L369.1,300.5 L370.8,299.5 L372.6,298.5 L374.4,297.5 L376.1,296.6 L377.9,295.6 L379.7,294.6 L381.4,293.6 L383.2,292.6 L385.0,291.7 L386.7,290.7 L388.5,289.7 L390.3,288.8 L392.0,287.8 L393.8,286.9 L395.6,285.9 L397.3,285.0 L399.1,284.0 L400.9,283.1 L402.6,282.1 L404.4,281.2 L406.2,280.2 L407.9,279.3 L409.7,278.4 L411.5,277.4 L413.2,276.5 L415.0,275.6 L416.8,274.6 L418.5,273.7 L420.3,272.8 L422.1,271.9 L423.8,271.0 L425.6,270.0 L427.4,269.1 L429.1,268.2 L430.9,267.3 L432.7,266.4 L434.4,265.5 L436.2,264.6 L438.0,263.7 L439.7,262.8 L441.5,261.9 L443.3,261.0 L445.0,260.2 L446.8,259.3 L448.6,258.4 L450.3,257.5 L452.1,256.6 L453.9,255.7 L455.6,254.9 L457.4,254.0 L459.2,253.1 L460.9,252.3 L462.7,251.4 L464.5,250.5 L466.2,249.7 L468.0,248.8 L469.8,248.0 L471.5,247.1 L473.3,246.3 L475.1,245.4 L476.8,244.6 L478.6,243.7 L480.4,242.9 L482.1,242.1 L483.9,241.2 L485.7,240.4 L487.4,239.5 L489.2,238.7 L491.0,237.9 L492.7,237.1 L494.5,236.2 L496.3,235.4 L498.0,234.6 L499.8,233.8 L501.6,233.0 L503.3,232.2 L505.1,231.3 L506.9,230.5 L508.6,229.7 L510.4,228.9 L512.2,228.1 L513.9,227.3 L515.7,226.5 L517.5,225.7 L519.2,224.9 L521.0,224.1 L522.8,223.4 L524.5,222.6 L526.3,221.8 L528.1,221.0 L529.8,220.2 L531.6,219.4 L533.4,218.7 L535.1,217.9 L536.9,217.1 L538.7,216.3 L540.4,215.6 L542.2,214.8 L544.0,214.1 L545.7,213.3 L547.5,212.5 L549.3,211.8 L551.0,211.0 L552.8,210.3 L554.6,209.5 L556.3,208.8 L558.1,208.0 L559.9,207.3 L561.6,206.5 L563.4,205.8 L565.2,205.0 L566.9,204.3 L568.7,203.6 L570.5,202.8 L572.2,202.1 L574.0,201.4 L575.8,200.6 L577.5,199.9 L579.3,199.2 L581.1,198.5 L582.8,197.8 L584.6,197.0 L586.4,196.3 L588.1,195.6 L589.9,194.9 L591.7,194.2 L593.4,193.5 L595.2,192.8 L597.0,192.1 L598.7,191.4 L600.5,190.7 L602.3,190.0 L604.0,189.3 L605.8,188.6 L607.6,187.9 L609.3,187.2 L611.1,186.5 L612.9,185.8 L614.6,185.1 L616.4,184.4 L618.2,183.7 L619.9,183.1 L621.7,182.4 L623.5,181.7 L625.2,181.0 L627.0,180.4 L628.8,179.7 L630.5,179.0 L632.3,178.4 L634.1,177.7 L635.8,177.0 L637.6,176.4 L639.4,175.7 L641.1,175.0 L642.9,174.4 L644.7,173.7 L646.4,173.1 L648.2,172.4 L650.0,171.8 L651.7,171.1 L653.5,170.5 L655.3,169.8 L657.0,169.2 L658.8,168.5 L660.6,167.9 L662.3,167.3 L664.1,166.6 L665.9,166.0 L667.6,165.4 L669.4,164.7 L671.2,164.1 L672.9,163.5 L674.7,162.8 L676.5,162.2 L678.2,161.6 L680.0,161.0 L681.8,160.4 L683.5,159.7 L685.3,159.1 L687.1,158.5 L688.8,157.9 L690.6,157.3 L692.4,156.7 L694.1,156.1 L695.9,155.5 L697.7,154.9 L699.4,154.2 L701.2,153.6 L703.0,153.0 L704.7,152.4 L706.5,151.8 L708.2,151.3 L710.0,150.7 L711.8,150.1 L713.5,149.5 L715.3,148.9 L717.1,148.3 L718.8,147.7 L720.6,147.1 L722.4,146.5 L724.1,146.0 L725.9,145.4 L727.7,144.8 L729.4,144.2 L731.2,143.6 L733.0,143.1 L734.7,142.5 L736.5,141.9 L738.3,141.4 L740.0,140.8 L741.8,140.2 L743.6,139.7 L745.3,139.1 L747.1,138.5 L748.9,138.0 L750.6,137.4 L752.4,136.8 L754.2,136.3 L755.9,135.7 L757.7,135.2 L759.5,134.6 L761.2,134.1 L763.0,133.5 L764.8,133.0 L766.5,132.4 L768.3,131.9 L770.1,131.3 L771.8,130.8 L773.6,130.3 L775.4,129.7 L777.1,129.2 L778.9,128.6 L780.7,128.1 L782.4,127.6 L784.2,127.0 L786.0,126.5 L787.7,126.0 L789.5,125.4 L791.3,124.9 L793.0,124.4 L794.8,123.9 L796.6,123.3 L798.3,122.8 L800.1,122.3 L801.9,121.8 L803.6,121.2 L805.4,120.7 L807.2,120.2 L808.9,119.7 L810.7,119.2 L812.5,118.7 L814.2,118.2 L816.0,117.6 L817.8,117.1 L819.5,116.6 L821.3,116.1 L823.1,115.6" fill="none" stroke="#BF40FF" stroke-width="5" stroke-dasharray="14.80 14.35" stroke-dashoffset="2.47" clip-path="url(#ca)"/>
<path d="M118.2,448.6 L120.0,447.3 L121.7,446.0 L123.5,444.7 L125.3,443.4 L127.0,442.1 L128.8,440.8 L130.6,439.5 L132.3,438.2 L134.1,436.9 L135.9,435.6 L137.6,434.3 L139.4,433.0 L141.2,431.8 L142.9,430.5 L144.7,429.2 L146.5,428.0 L148.2,426.7 L150.0,425.4 L151.8,424.2 L153.5,422.9 L155.3,421.7 L157.1,420.4 L158.8,419.2 L160.6,417.9 L162.4,416.7 L164.1,415.5 L165.9,414.2 L167.7,413.0 L169.4,411.8 L171.2,410.6 L173.0,409.3 L174.7,408.1 L176.5,406.9 L178.3,405.7 L180.0,404.5 L181.8,403.3 L183.6,402.1 L185.3,400.9 L187.1,399.7 L188.9,398.5 L190.6,397.3 L192.4,396.1 L194.2,394.9 L195.9,393.8 L197.7,392.6 L199.5,391.4 L201.2,390.2 L203.0,389.1 L204.8,387.9 L206.5,386.7 L208.3,385.6 L210.1,384.4 L211.8,383.3 L213.6,382.1 L215.4,381.0 L217.1,379.8 L218.9,378.7 L220.7,377.5 L222.4,376.4 L224.2,375.3 L226.0,374.1 L227.7,373.0 L229.5,371.9 L231.3,370.8 L233.0,369.6 L234.8,368.5 L236.6,367.4 L238.3,366.3 L240.1,365.2 L241.9,364.1 L243.6,363.0 L245.4,361.9 L247.2,360.8 L248.9,359.7 L250.7,358.6 L252.5,357.5 L254.2,356.4 L256.0,355.4 L257.8,354.3 L259.5,353.2 L261.3,352.1 L263.1,351.1 L264.8,350.0 L266.6,348.9 L268.4,347.9 L270.1,346.8 L271.9,345.8 L273.7,344.7 L275.4,343.6 L277.2,342.6 L279.0,341.6 L280.7,340.5 L282.5,339.5 L284.3,338.4 L286.0,337.4 L287.8,336.4 L289.6,335.3 L291.3,334.3 L293.1,333.3 L294.9,332.3 L296.6,331.2 L298.4,330.2 L300.2,329.2 L301.9,328.2 L303.7,327.2 L305.5,326.2 L307.2,325.2 L309.0,324.2 L310.8,323.2 L312.5,322.2 L314.3,321.2 L316.1,320.2 L317.8,319.2 L319.6,318.2 L321.4,317.3 L323.1,316.3 L324.9,315.3 L326.7,314.3 L328.4,313.4 L330.2,312.4 L332.0,311.4 L333.7,310.4 L335.5,309.5 L337.3,308.5 L339.0,307.6 L340.8,306.6 L342.6,305.7 L344.3,304.7 L346.1,303.8 L347.9,302.8 L349.6,301.9 L351.4,300.9 L353.2,300.0 L354.9,299.1 L356.7,298.1 L358.5,297.2 L360.2,296.3 L362.0,295.4 L363.8,294.4 L365.5,293.5 L367.3,292.6 L369.1,291.7 L370.8,290.8 L372.6,289.9 L374.4,289.0 L376.1,288.1 L377.9,287.1 L379.7,286.2 L381.4,285.3 L383.2,284.5 L385.0,283.6 L386.7,282.7 L388.5,281.8 L390.3,280.9 L392.0,280.0 L393.8,279.1 L395.6,278.3 L397.3,277.4 L399.1,276.5 L400.9,275.6 L402.6,274.8 L404.4,273.9 L406.2,273.0 L407.9,272.2 L409.7,271.3 L411.5,270.4 L413.2,269.6 L415.0,268.7 L416.8,267.9 L418.5,267.0 L420.3,266.2 L422.1,265.3 L423.8,264.5 L425.6,263.7 L427.4,262.8 L429.1,262.0 L430.9,261.1 L432.7,260.3 L434.4,259.5 L436.2,258.7 L438.0,257.8 L439.7,257.0 L441.5,256.2 L443.3,255.4 L445.0,254.6 L446.8,253.7 L448.6,252.9 L450.3,252.1 L452.1,251.3 L453.9,250.5 L455.6,249.7 L457.4,248.9 L459.2,248.1 L460.9,247.3 L462.7,246.5 L464.5,245.7 L466.2,244.9 L468.0,244.1 L469.8,243.4 L471.5,242.6 L473.3,241.8 L475.1,241.0 L476.8,240.2 L478.6,239.4 L480.4,238.7 L482.1,237.9 L483.9,237.1 L485.7,236.4 L487.4,235.6 L489.2,234.8 L491.0,234.1 L492.7,233.3 L494.5,232.6 L496.3,231.8 L498.0,231.0 L499.8,230.3 L501.6,229.5 L503.3,228.8 L505.1,228.0 L506.9,227.3 L508.6,226.6 L510.4,225.8 L512.2,225.1 L513.9,224.3 L515.7,223.6 L517.5,222.9 L519.2,222.1 L521.0,221.4 L522.8,220.7 L524.5,220.0 L526.3,219.2 L528.1,218.5 L529.8,217.8 L531.6,217.1 L533.4,216.4 L535.1,215.7 L536.9,214.9 L538.7,214.2 L540.4,213.5 L542.2,212.8 L544.0,212.1 L545.7,211.4 L547.5,210.7 L549.3,210.0 L551.0,209.3 L552.8,208.6 L554.6,207.9 L556.3,207.2 L558.1,206.5 L559.9,205.9 L561.6,205.2 L563.4,204.5 L565.2,203.8 L566.9,203.1 L568.7,202.4 L570.5,201.8 L572.2,201.1 L574.0,200.4 L575.8,199.7 L577.5,199.1 L579.3,198.4 L581.1,197.7 L582.8,197.1 L584.6,196.4 L586.4,195.7 L588.1,195.1 L589.9,194.4 L591.7,193.8 L593.4,193.1 L595.2,192.5 L597.0,191.8 L598.7,191.1 L600.5,190.5 L602.3,189.9 L604.0,189.2 L605.8,188.6 L607.6,187.9 L609.3,187.3 L611.1,186.6 L612.9,186.0 L614.6,185.4 L616.4,184.7 L618.2,184.1 L619.9,183.5 L621.7,182.8 L623.5,182.2 L625.2,181.6 L627.0,181.0 L628.8,180.3 L630.5,179.7 L632.3,179.1 L634.1,178.5 L635.8,177.9 L637.6,177.2 L639.4,176.6 L641.1,176.0 L642.9,175.4 L644.7,174.8 L646.4,174.2 L648.2,173.6 L650.0,173.0 L651.7,172.4 L653.5,171.8 L655.3,171.2 L657.0,170.6 L658.8,170.0 L660.6,169.4 L662.3,168.8 L664.1,168.2 L665.9,167.6 L667.6,167.0 L669.4,166.4 L671.2,165.8 L672.9,165.2 L674.7,164.6 L676.5,164.1 L678.2,163.5 L680.0,162.9 L681.8,162.3 L683.5,161.7 L685.3,161.2 L687.1,160.6 L688.8,160.0 L690.6,159.4 L692.4,158.9 L694.1,158.3 L695.9,157.7 L697.7,157.2 L699.4,156.6 L701.2,156.0 L703.0,155.5 L704.7,154.9 L706.5,154.3 L708.2,153.8 L710.0,153.2 L711.8,152.7 L713.5,152.1 L715.3,151.5 L717.1,151.0 L718.8,150.4 L720.6,149.9 L722.4,149.3 L724.1,148.8 L725.9,148.2 L727.7,147.7 L729.4,147.1 L731.2,146.6 L733.0,146.1 L734.7,145.5 L736.5,145.0 L738.3,144.4 L740.0,143.9 L741.8,143.4 L743.6,142.8 L745.3,142.3 L747.1,141.8 L748.9,141.2 L750.6,140.7 L752.4,140.2 L754.2,139.6 L755.9,139.1 L757.7,138.6 L759.5,138.1 L761.2,137.5 L763.0,137.0 L764.8,136.5 L766.5,136.0 L768.3,135.4 L770.1,134.9 L771.8,134.4 L773.6,133.9 L775.4,133.4 L777.1,132.9 L778.9,132.3 L780.7,131.8 L782.4,131.3 L784.2,130.8 L786.0,130.3 L787.7,129.8 L789.5,129.3 L791.3,128.8 L793.0,128.3 L794.8,127.8 L796.6,127.3 L798.3,126.8 L800.1,126.3 L801.9,125.8 L803.6,125.3 L805.4,124.8 L807.2,124.3 L808.9,123.8 L810.7,123.3 L812.5,122.8 L814.2,122.3 L816.0,121.8 L817.8,121.3 L819.5,120.8 L821.3,120.3 L823.1,119.8" fill="none" stroke="#FF00FF" stroke-width="5" stroke-dasharray="14.80 14.35" stroke-dashoffset="1.67" clip-path="url(#ca)"/>
<rect x="137.80" y="18.80" width="311.4" height="123.9" fill="#fff" stroke="#262626" stroke-width="1.6"/>
<circle cx="181.6" cy="41.5" r="9.5" fill="none" stroke="#FF00FF" stroke-width="5"/>
<path d="M171.3,70.4L192.1,91.2M171.3,91.2L192.1,70.4" stroke="#FF00FF" stroke-width="5" fill="none"/>
<line x1="145.20" y1="119.80" x2="218.20" y2="119.80" stroke="#FF00FF" stroke-width="5.2" stroke-dasharray="14.8 14.4"/>
<text transform="translate(223.70,53.00) scale(1,1.025)" font-size="29.30" fill="#000" stroke="#000">Local Fit</text>
<text transform="translate(223.70,92.00) scale(1,1.025)" font-size="29.30" fill="#000" stroke="#000">Model Fit</text>
<text transform="translate(223.70,131.00) scale(1,1.025)" font-size="29.30" fill="#000" stroke="#000">Model Prediction</text>
<text transform="translate(147.40,208.00) scale(1,1.025)" font-size="29.30" fill="#000" stroke="#000">R</text>
<text transform="translate(168.65,194.50) scale(1,1.025)" font-size="24.00" fill="#000" stroke="#000">2</text>
<text transform="translate(168.95,223.00) scale(1,1.025)" font-size="24.00" fill="#000" stroke="#000">adj</text>
<text transform="translate(210.55,208.00) scale(1,1.025)" font-size="29.30" fill="#000" stroke="#000">= 0.968</text>
<text transform="translate(147.00,259.00) scale(1,1.025)" font-size="29.30" fill="#000" stroke="#000">MAE = 0.0592</text>
<rect x="910.50" y="53.40" width="21.60" height="433.70" fill="url(#gcool)" stroke="#262626" stroke-width="1.6"/>
<text transform="translate(898.60,499.00) scale(1,1.025)" font-size="29.30" text-anchor="end" fill="#262626" stroke="#262626">0</text>
<line x1="910.50" y1="378.68" x2="915.00" y2="378.68" stroke="#262626" stroke-width="1.6"/>
<text transform="translate(898.60,390.57) scale(1,1.025)" font-size="29.30" text-anchor="end" fill="#262626" stroke="#262626">0.25</text>
<line x1="910.50" y1="270.25" x2="915.00" y2="270.25" stroke="#262626" stroke-width="1.6"/>
<text transform="translate(898.60,282.15) scale(1,1.025)" font-size="29.30" text-anchor="end" fill="#262626" stroke="#262626">0.5</text>
<line x1="910.50" y1="161.82" x2="915.00" y2="161.82" stroke="#262626" stroke-width="1.6"/>
<text transform="translate(898.60,173.72) scale(1,1.025)" font-size="29.30" text-anchor="end" fill="#262626" stroke="#262626">0.75</text>
<path transform="translate(882.30,65.30) scale(0.01431,0.01431)" d="M763,0L583,0L583,-1147Q518,-1085 432,-1034.5Q346,-984 223,-938L223,-1112Q444,-1216 534,-1298Q624,-1380 679,-1466L763,-1466Z" fill="#262626" stroke="#262626" stroke-width="0.8" vector-effect="non-scaling-stroke" stroke-linejoin="round"/>
<text transform="translate(898.60,65.30) scale(1,1.025)" font-size="29.30" text-anchor="end" fill="#262626" stroke="#262626"> </text>
<text transform="translate(969.00,273.25) rotate(-90) scale(1,1.025)" font-size="29.30" text-anchor="middle" fill="#262626" stroke="#262626">SOC</text>
<path transform="translate(105.58,577.60) scale(0.01431,0.01431)" d="M763,0L583,0L583,-1147Q518,-1085 432,-1034.5Q346,-984 223,-938L223,-1112Q444,-1216 534,-1298Q624,-1380 679,-1466L763,-1466Z" fill="#262626" stroke="#262626" stroke-width="0.8" vector-effect="non-scaling-stroke" stroke-linejoin="round"/>
<text transform="translate(117.00,577.60) scale(1,1.025)" font-size="29.30" text-anchor="middle" fill="#262626" stroke="#262626">- 0</text>
<text transform="translate(205.11,577.60) scale(1,1.025)" font-size="29.30" text-anchor="middle" fill="#262626" stroke="#262626">0</text>
<path transform="translate(276.92,577.60) scale(0.01431,0.01431)" d="M763,0L583,0L583,-1147Q518,-1085 432,-1034.5Q346,-984 223,-938L223,-1112Q444,-1216 534,-1298Q624,-1380 679,-1466L763,-1466Z" fill="#262626" stroke="#262626" stroke-width="0.8" vector-effect="non-scaling-stroke" stroke-linejoin="round"/>
<text transform="translate(293.22,577.60) scale(1,1.025)" font-size="29.30" text-anchor="middle" fill="#262626" stroke="#262626"> 0</text>
<text transform="translate(381.33,577.60) scale(1,1.025)" font-size="29.30" text-anchor="middle" fill="#262626" stroke="#262626">20</text>
<text transform="translate(469.44,577.60) scale(1,1.025)" font-size="29.30" text-anchor="middle" fill="#262626" stroke="#262626">30</text>
<text transform="translate(557.55,577.60) scale(1,1.025)" font-size="29.30" text-anchor="middle" fill="#262626" stroke="#262626">40</text>
<text transform="translate(645.66,577.60) scale(1,1.025)" font-size="29.30" text-anchor="middle" fill="#262626" stroke="#262626">50</text>
<text transform="translate(733.77,577.60) scale(1,1.025)" font-size="29.30" text-anchor="middle" fill="#262626" stroke="#262626">60</text>
<text transform="translate(821.88,577.60) scale(1,1.025)" font-size="29.30" text-anchor="middle" fill="#262626" stroke="#262626">70</text>
<path transform="translate(60.00,186.30) scale(0.01431,0.01431)" d="M763,0L583,0L583,-1147Q518,-1085 432,-1034.5Q346,-984 223,-938L223,-1112Q444,-1216 534,-1298Q624,-1380 679,-1466L763,-1466Z" fill="#262626" stroke="#262626" stroke-width="0.8" vector-effect="non-scaling-stroke" stroke-linejoin="round"/>
<text transform="translate(60.00,186.30) scale(1,1.025)" font-size="29.30" fill="#262626" stroke="#262626"> 0</text>
<text transform="translate(93.60,171.00) scale(1,1.025)" font-size="22.00" fill="#262626" stroke="#262626">0</text>
<path transform="translate(52.50,466.70) scale(0.01431,0.01431)" d="M763,0L583,0L583,-1147Q518,-1085 432,-1034.5Q346,-984 223,-938L223,-1112Q444,-1216 534,-1298Q624,-1380 679,-1466L763,-1466Z" fill="#262626" stroke="#262626" stroke-width="0.8" vector-effect="non-scaling-stroke" stroke-linejoin="round"/>
<text transform="translate(52.50,466.70) scale(1,1.025)" font-size="29.30" fill="#262626" stroke="#262626"> 0</text>
<path transform="translate(92.63,452.00) scale(0.01074,0.01074)" d="M763,0L583,0L583,-1147Q518,-1085 432,-1034.5Q346,-984 223,-938L223,-1112Q444,-1216 534,-1298Q624,-1380 679,-1466L763,-1466Z" fill="#262626" stroke="#262626" stroke-width="0.8" vector-effect="non-scaling-stroke" stroke-linejoin="round"/>
<text transform="translate(85.30,452.00) scale(1,1.025)" font-size="22.00" fill="#262626" stroke="#262626">- </text>
<text transform="translate(513.10,619.50) scale(1,1.025)" font-size="32.20" fill="#262626" stroke="#262626">T (</text>
<text transform="translate(556.44,616.00) scale(1,1.025)" font-size="26.00" fill="#262626" stroke="#262626">°</text>
<text transform="translate(567.40,619.50) scale(1,1.025)" font-size="32.20" fill="#262626" stroke="#262626">C</text>
<text transform="translate(592.30,619.50) scale(1,1.025)" font-size="32.20" fill="#262626" stroke="#262626">)</text>
<g transform="translate(24.20,350.60) rotate(-90)">
<text transform="scale(1,1.025)" font-size="32.20" fill="#262626" stroke="#262626">q</text>
<path transform="translate(18.30,14.00) scale(0.01172,0.01172)" d="M763,0L583,0L583,-1147Q518,-1085 432,-1034.5Q346,-984 223,-938L223,-1112Q444,-1216 534,-1298Q624,-1380 679,-1466L763,-1466Z" fill="#262626" stroke="#262626" stroke-width="0.8" vector-effect="non-scaling-stroke" stroke-linejoin="round"/>
<text transform="translate(31.9,0) scale(1,1.025)" font-size="32.20" fill="#262626" stroke="#262626">(</text>
<text transform="translate(45.1,0) scale(1,1.025)" font-size="32.20" fill="#262626" stroke="#262626">T, SOC</text>
<text transform="translate(152.3,0) scale(1,1.025)" font-size="32.20" fill="#262626" stroke="#262626">)</text>
</g>
<text transform="translate(66.96,31.00) scale(1,0.970)" font-size="39.00" fill="#000" stroke="#000">a</text>
<line x1="118.20" y1="681.80" x2="118.20" y2="1217.20" stroke="#DEDEDE" stroke-width="1.4"/>
<line x1="206.31" y1="681.80" x2="206.31" y2="1217.20" stroke="#DEDEDE" stroke-width="1.4"/>
<line x1="294.42" y1="681.80" x2="294.42" y2="1217.20" stroke="#DEDEDE" stroke-width="1.4"/>
<line x1="382.53" y1="681.80" x2="382.53" y2="1217.20" stroke="#DEDEDE" stroke-width="1.4"/>
<line x1="470.64" y1="681.80" x2="470.64" y2="1217.20" stroke="#DEDEDE" stroke-width="1.4"/>
<line x1="558.75" y1="681.80" x2="558.75" y2="1217.20" stroke="#DEDEDE" stroke-width="1.4"/>
<line x1="646.86" y1="681.80" x2="646.86" y2="1217.20" stroke="#DEDEDE" stroke-width="1.4"/>
<line x1="734.97" y1="681.80" x2="734.97" y2="1217.20" stroke="#DEDEDE" stroke-width="1.4"/>
<line x1="823.08" y1="681.80" x2="823.08" y2="1217.20" stroke="#DEDEDE" stroke-width="1.4"/>
<line x1="118.20" y1="1150.22" x2="999.30" y2="1150.22" stroke="#DEDEDE" stroke-width="1.4"/>
<line x1="118.20" y1="1016.38" x2="999.30" y2="1016.38" stroke="#DEDEDE" stroke-width="1.4"/>
<line x1="118.20" y1="882.54" x2="999.30" y2="882.54" stroke="#DEDEDE" stroke-width="1.4"/>
<line x1="118.20" y1="748.70" x2="999.30" y2="748.70" stroke="#DEDEDE" stroke-width="1.4"/>
<rect x="118.20" y="681.80" width="881.10" height="535.40" fill="none" stroke="#262626" stroke-width="1.7"/>
<line x1="118.20" y1="1217.20" x2="118.20" y2="1207.70" stroke="#262626" stroke-width="1.7"/>
<line x1="118.20" y1="681.80" x2="118.20" y2="691.30" stroke="#262626" stroke-width="1.7"/>
<line x1="206.31" y1="1217.20" x2="206.31" y2="1207.70" stroke="#262626" stroke-width="1.7"/>
<line x1="206.31" y1="681.80" x2="206.31" y2="691.30" stroke="#262626" stroke-width="1.7"/>
<line x1="294.42" y1="1217.20" x2="294.42" y2="1207.70" stroke="#262626" stroke-width="1.7"/>
<line x1="294.42" y1="681.80" x2="294.42" y2="691.30" stroke="#262626" stroke-width="1.7"/>
<line x1="382.53" y1="1217.20" x2="382.53" y2="1207.70" stroke="#262626" stroke-width="1.7"/>
<line x1="382.53" y1="681.80" x2="382.53" y2="691.30" stroke="#262626" stroke-width="1.7"/>
<line x1="470.64" y1="1217.20" x2="470.64" y2="1207.70" stroke="#262626" stroke-width="1.7"/>
<line x1="470.64" y1="681.80" x2="470.64" y2="691.30" stroke="#262626" stroke-width="1.7"/>
<line x1="558.75" y1="1217.20" x2="558.75" y2="1207.70" stroke="#262626" stroke-width="1.7"/>
<line x1="558.75" y1="681.80" x2="558.75" y2="691.30" stroke="#262626" stroke-width="1.7"/>
<line x1="646.86" y1="1217.20" x2="646.86" y2="1207.70" stroke="#262626" stroke-width="1.7"/>
<line x1="646.86" y1="681.80" x2="646.86" y2="691.30" stroke="#262626" stroke-width="1.7"/>
<line x1="734.97" y1="1217.20" x2="734.97" y2="1207.70" stroke="#262626" stroke-width="1.7"/>
<line x1="734.97" y1="681.80" x2="734.97" y2="691.30" stroke="#262626" stroke-width="1.7"/>
<line x1="823.08" y1="1217.20" x2="823.08" y2="1207.70" stroke="#262626" stroke-width="1.7"/>
<line x1="823.08" y1="681.80" x2="823.08" y2="691.30" stroke="#262626" stroke-width="1.7"/>
<line x1="118.20" y1="1150.22" x2="127.70" y2="1150.22" stroke="#262626" stroke-width="1.7"/>
<line x1="999.30" y1="1150.22" x2="989.80" y2="1150.22" stroke="#262626" stroke-width="1.7"/>
<line x1="118.20" y1="1016.38" x2="127.70" y2="1016.38" stroke="#262626" stroke-width="1.7"/>
<line x1="999.30" y1="1016.38" x2="989.80" y2="1016.38" stroke="#262626" stroke-width="1.7"/>
<line x1="118.20" y1="882.54" x2="127.70" y2="882.54" stroke="#262626" stroke-width="1.7"/>
<line x1="999.30" y1="882.54" x2="989.80" y2="882.54" stroke="#262626" stroke-width="1.7"/>
<line x1="118.20" y1="748.70" x2="127.70" y2="748.70" stroke="#262626" stroke-width="1.7"/>
<line x1="999.30" y1="748.70" x2="989.80" y2="748.70" stroke="#262626" stroke-width="1.7"/>
<circle cx="426.6" cy="927.6" r="9.5" fill="none" stroke="#00FFFF" stroke-width="5"/>
<path d="M426.6,951.0L426.6,965.0M419.4,951.0L433.8,951.0M419.4,965.0L433.8,965.0" stroke="#00FFFF" stroke-width="5" fill="none"/>
<path d="M409.6,947.8L443.6,981.8M409.6,981.8L443.6,947.8" stroke="#00FFFF" stroke-width="5" fill="none"/>
<circle cx="426.6" cy="977.0" r="9.5" fill="none" stroke="#00FFFF" stroke-width="5"/>
<circle cx="426.6" cy="983.0" r="9.5" fill="none" stroke="#00FFFF" stroke-width="5"/>
<circle cx="426.6" cy="989.2" r="9.5" fill="none" stroke="#00FFFF" stroke-width="5"/>
<path d="M558.8,851.6L558.8,905.0M551.5,851.6L566.0,851.6M551.5,905.0L566.0,905.0" stroke="#00FFFF" stroke-width="5" fill="none"/>
<path d="M541.8,853.6L575.8,887.6M541.8,887.6L575.8,853.6" stroke="#00FFFF" stroke-width="5" fill="none"/>
<circle cx="558.8" cy="898.4" r="9.5" fill="none" stroke="#00FFFF" stroke-width="5"/>
<circle cx="735.0" cy="746.1" r="9.5" fill="none" stroke="#00FFFF" stroke-width="5"/>
<circle cx="735.0" cy="779.1" r="9.5" fill="none" stroke="#00FFFF" stroke-width="5"/>
<circle cx="735.0" cy="784.6" r="9.5" fill="none" stroke="#00FFFF" stroke-width="5"/>
<path d="M735.0,780.0L735.0,865.1M727.8,780.0L742.2,780.0M727.8,865.1L742.2,865.1" stroke="#00FFFF" stroke-width="5" fill="none"/>
<path d="M718.0,789.7L752.0,823.7M718.0,823.7L752.0,789.7" stroke="#00FFFF" stroke-width="5" fill="none"/>
<circle cx="558.8" cy="921.0" r="9.5" fill="none" stroke="#20DFFF" stroke-width="5"/>
<circle cx="558.8" cy="934.0" r="9.5" fill="none" stroke="#20DFFF" stroke-width="5"/>
<path d="M558.8,915.0L558.8,945.7M551.5,915.0L566.0,915.0M551.5,945.7L566.0,945.7" stroke="#20DFFF" stroke-width="5" fill="none"/>
<path d="M541.8,914.7L575.8,948.7M541.8,948.7L575.8,914.7" stroke="#20DFFF" stroke-width="5" fill="none"/>
<path d="M558.8,976.0L558.8,992.0M551.5,976.0L566.0,976.0M551.5,992.0L566.0,992.0" stroke="#40BFFF" stroke-width="5" fill="none"/>
<circle cx="558.8" cy="990.0" r="9.5" fill="none" stroke="#40BFFF" stroke-width="5"/>
<circle cx="558.8" cy="996.0" r="9.5" fill="none" stroke="#40BFFF" stroke-width="5"/>
<path d="M541.8,969.0L575.8,1003.0M541.8,1003.0L575.8,969.0" stroke="#40BFFF" stroke-width="5" fill="none"/>
<path d="M541.8,1015.0L575.8,1049.0M541.8,1049.0L575.8,1015.0" stroke="#609FFF" stroke-width="5" fill="none"/>
<circle cx="206.3" cy="945.0" r="9.5" fill="none" stroke="#8080FF" stroke-width="5"/>
<circle cx="206.3" cy="952.0" r="9.5" fill="none" stroke="#8080FF" stroke-width="5"/>
<circle cx="206.3" cy="960.0" r="9.5" fill="none" stroke="#8080FF" stroke-width="5"/>
<circle cx="206.3" cy="968.0" r="9.5" fill="none" stroke="#8080FF" stroke-width="5"/>
<path d="M206.3,933.1L206.3,965.0M199.1,933.1L213.5,933.1M199.1,965.0L213.5,965.0" stroke="#8080FF" stroke-width="5" fill="none"/>
<path d="M189.3,933.0L223.3,967.0M189.3,967.0L223.3,933.0" stroke="#8080FF" stroke-width="5" fill="none"/>
<circle cx="294.4" cy="1034.5" r="9.5" fill="none" stroke="#8080FF" stroke-width="5"/>
<circle cx="294.4" cy="1057.0" r="9.5" fill="none" stroke="#8080FF" stroke-width="5"/>
<circle cx="294.4" cy="1062.0" r="9.5" fill="none" stroke="#8080FF" stroke-width="5"/>
<path d="M294.4,1050.0L294.4,1073.6M287.2,1050.0L301.6,1050.0M287.2,1073.6L301.6,1073.6" stroke="#8080FF" stroke-width="5" fill="none"/>
<path d="M277.4,1045.6L311.4,1079.6M277.4,1079.6L311.4,1045.6" stroke="#8080FF" stroke-width="5" fill="none"/>
<circle cx="426.6" cy="1054.5" r="9.5" fill="none" stroke="#8080FF" stroke-width="5"/>
<circle cx="426.6" cy="1059.0" r="9.5" fill="none" stroke="#8080FF" stroke-width="5"/>
<path d="M409.6,1063.4L443.6,1097.4M409.6,1097.4L443.6,1063.4" stroke="#8080FF" stroke-width="5" fill="none"/>
<path d="M426.6,1076.0L426.6,1084.0M419.4,1076.0L433.8,1076.0M419.4,1084.0L433.8,1084.0" stroke="#8080FF" stroke-width="5" fill="none"/>
<circle cx="558.8" cy="1029.0" r="9.5" fill="none" stroke="#8080FF" stroke-width="5"/>
<circle cx="558.8" cy="1035.0" r="9.5" fill="none" stroke="#8080FF" stroke-width="5"/>
<path d="M541.8,1031.0L575.8,1065.0M541.8,1065.0L575.8,1031.0" stroke="#8080FF" stroke-width="5" fill="none"/>
<circle cx="735.0" cy="1083.0" r="9.5" fill="none" stroke="#8080FF" stroke-width="5"/>
<circle cx="735.0" cy="1090.0" r="9.5" fill="none" stroke="#8080FF" stroke-width="5"/>
<path d="M735.0,1052.5L735.0,1070.0M727.8,1052.5L742.2,1052.5M727.8,1070.0L742.2,1070.0" stroke="#8080FF" stroke-width="5" fill="none"/>
<path d="M718.0,1043.5L752.0,1077.5M718.0,1077.5L752.0,1043.5" stroke="#8080FF" stroke-width="5" fill="none"/>
<circle cx="558.8" cy="1045.0" r="9.5" fill="none" stroke="#9F60FF" stroke-width="5"/>
<circle cx="558.8" cy="1051.0" r="9.5" fill="none" stroke="#9F60FF" stroke-width="5"/>
<circle cx="558.8" cy="1056.5" r="9.5" fill="none" stroke="#9F60FF" stroke-width="5"/>
<path d="M541.8,1041.0L575.8,1075.0M541.8,1075.0L575.8,1041.0" stroke="#9F60FF" stroke-width="5" fill="none"/>
<path d="M541.8,1075.3L575.8,1109.3M541.8,1109.3L575.8,1075.3" stroke="#BF40FF" stroke-width="5" fill="none"/>
<circle cx="558.8" cy="1093.0" r="9.5" fill="none" stroke="#DF20FF" stroke-width="5"/>
<path d="M541.8,1106.0L575.8,1140.0M541.8,1140.0L575.8,1106.0" stroke="#DF20FF" stroke-width="5" fill="none"/>
<circle cx="558.8" cy="1139.0" r="9.5" fill="none" stroke="#DF20FF" stroke-width="5"/>
<circle cx="426.6" cy="1140.5" r="9.5" fill="none" stroke="#FF00FF" stroke-width="5"/>
<circle cx="426.6" cy="1148.0" r="9.5" fill="none" stroke="#FF00FF" stroke-width="5"/>
<circle cx="426.6" cy="1156.3" r="9.5" fill="none" stroke="#FF00FF" stroke-width="5"/>
<path d="M409.6,1128.9L443.6,1162.9M409.6,1162.9L443.6,1128.9" stroke="#FF00FF" stroke-width="5" fill="none"/>
<circle cx="558.8" cy="1093.5" r="7.5" fill="#BF40FF"/>
<circle cx="558.8" cy="1093.0" r="9.5" fill="none" stroke="#FF00FF" stroke-width="5"/>
<path d="M541.8,1102.0L575.8,1136.0M541.8,1136.0L575.8,1102.0" stroke="#FF00FF" stroke-width="5" fill="none"/>
<circle cx="735.0" cy="1136.0" r="9.5" fill="none" stroke="#FF00FF" stroke-width="5"/>
<circle cx="735.0" cy="1141.0" r="9.5" fill="none" stroke="#FF00FF" stroke-width="5"/>
<path d="M718.0,1120.6L752.0,1154.6M718.0,1154.6L752.0,1120.6" stroke="#FF00FF" stroke-width="5" fill="none"/>
<path d="M226.0,616.9 L227.5,637.7 L229.0,654.8 L230.5,668.9 L232.0,680.5 L233.5,690.0 L235.0,698.1 L236.5,705.3 L238.0,712.0 L239.5,718.8 L241.0,725.6 L242.5,732.4 L244.0,739.1 L245.5,745.7 L247.0,752.2 L248.4,758.6 L249.9,764.8 L251.4,770.9 L252.9,776.8 L254.4,782.6 L255.9,788.3 L257.4,793.8 L258.9,799.2 L260.4,804.5 L261.9,809.7 L263.4,814.7 L264.9,819.6 L266.4,824.4 L267.9,829.1 L269.4,833.6 L270.9,838.1 L272.4,842.4 L273.9,846.6 L275.4,850.8 L276.9,854.8 L278.4,858.7 L279.9,862.5 L281.4,866.3 L282.9,869.9 L284.4,873.5 L285.9,876.9 L287.4,880.3 L288.9,883.6 L290.3,886.7 L291.8,889.9 L293.3,892.9 L294.8,895.8 L296.3,898.7 L297.8,901.4 L299.3,904.1 L300.8,906.8 L302.3,909.3 L303.8,911.8 L305.3,914.2 L306.8,916.5 L308.3,918.7 L309.8,920.9 L311.3,923.1 L312.8,925.1 L314.3,927.1 L315.8,929.0 L317.3,930.9 L318.8,932.7 L320.3,934.5 L321.8,936.2 L323.3,937.8 L324.8,939.4 L326.3,940.9 L327.8,942.4 L329.3,943.8 L330.8,945.2 L332.2,946.6 L333.7,947.8 L335.2,949.1 L336.7,950.3 L338.2,951.5 L339.7,952.6 L341.2,953.7 L342.7,954.7 L344.2,955.8 L345.7,956.7 L347.2,957.7 L348.7,958.6 L350.2,959.5 L351.7,960.3 L353.2,961.1 L354.7,961.9 L356.2,962.6 L357.7,963.3 L359.2,963.9 L360.7,964.6 L362.2,965.2 L363.7,965.7 L365.2,966.3 L366.7,966.8 L368.2,967.2 L369.7,967.7 L371.2,968.1 L372.7,968.5 L374.1,968.8 L375.6,969.1 L377.1,969.4 L378.6,969.7 L380.1,969.9 L381.6,970.1 L383.1,970.3 L384.6,970.4 L386.1,970.5 L387.6,970.6 L389.1,970.7 L390.6,970.7 L392.1,970.7 L393.6,970.7 L395.1,970.7 L396.6,970.6 L398.1,970.5 L399.6,970.4 L401.1,970.3 L402.6,970.1 L404.1,969.9 L405.6,969.7 L407.1,969.5 L408.6,969.2 L410.1,968.9 L411.6,968.6 L413.1,968.3 L414.6,967.9 L416.0,967.6 L417.5,967.2 L419.0,966.8 L420.5,966.3 L422.0,965.9 L423.5,965.4 L425.0,964.9 L426.5,964.4 L428.0,963.9 L429.5,963.3 L431.0,962.7 L432.5,962.2 L434.0,961.5 L435.5,960.9 L437.0,960.3 L438.5,959.6 L440.0,958.9 L441.5,958.2 L443.0,957.5 L444.5,956.8 L446.0,956.0 L447.5,955.2 L449.0,954.5 L450.5,953.7 L452.0,952.8 L453.5,952.0 L455.0,951.2 L456.5,950.3 L457.9,949.4 L459.4,948.5 L460.9,947.6 L462.4,946.7 L463.9,945.8 L465.4,944.8 L466.9,943.8 L468.4,942.9 L469.9,941.9 L471.4,940.9 L472.9,939.9 L474.4,938.9 L475.9,937.8 L477.4,936.8 L478.9,935.7 L480.4,934.6 L481.9,933.6 L483.4,932.5 L484.9,931.4 L486.4,930.3 L487.9,929.1 L489.4,928.0 L490.9,926.9 L492.4,925.7 L493.9,924.6 L495.4,923.4 L496.9,922.2 L498.4,921.0 L499.8,919.8 L501.3,918.6 L502.8,917.4 L504.3,916.2 L505.8,915.0 L507.3,913.8 L508.8,912.6 L510.3,911.3 L511.8,910.1 L513.3,908.8 L514.8,907.6 L516.3,906.3 L517.8,905.1 L519.3,903.8 L520.8,902.5 L522.3,901.2 L523.8,900.0 L525.3,898.7 L526.8,897.4 L528.3,896.1 L529.8,894.8 L531.3,893.5 L532.8,892.2 L534.3,890.9 L535.8,889.6 L537.3,888.3 L538.8,887.0 L540.3,885.7 L541.7,884.4 L543.2,883.1 L544.7,881.8 L546.2,880.5 L547.7,879.2 L549.2,877.9 L550.7,876.6 L552.2,875.2 L553.7,873.9 L555.2,872.6 L556.7,871.3 L558.2,870.0 L559.7,868.8 L561.2,867.5 L562.7,866.2 L564.2,864.9 L565.7,863.6 L567.2,862.3 L568.7,861.0 L570.2,859.8 L571.7,858.5 L573.2,857.2 L574.7,856.0 L576.2,854.7 L577.7,853.5 L579.2,852.2 L580.7,851.0 L582.2,849.8 L583.6,848.5 L585.1,847.3 L586.6,846.1 L588.1,844.9 L589.6,843.7 L591.1,842.5 L592.6,841.3 L594.1,840.2 L595.6,839.0 L597.1,837.8 L598.6,836.7 L600.1,835.6 L601.6,834.4 L603.1,833.3 L604.6,832.2 L606.1,831.1 L607.6,830.0 L609.1,828.9 L610.6,827.9 L612.1,826.8 L613.6,825.7 L615.1,824.7 L616.6,823.7 L618.1,822.7 L619.6,821.7 L621.1,820.7 L622.6,819.7 L624.1,818.8 L625.5,817.8 L627.0,816.9 L628.5,816.0 L630.0,815.0 L631.5,814.2 L633.0,813.3 L634.5,812.4 L636.0,811.6 L637.5,810.7 L639.0,809.9 L640.5,809.1 L642.0,808.3 L643.5,807.6 L645.0,806.8 L646.5,806.1 L648.0,805.4 L649.5,804.7 L651.0,804.0 L652.5,803.3 L654.0,802.7 L655.5,802.0 L657.0,801.4 L658.5,800.8 L660.0,800.3 L661.5,799.7 L663.0,799.2 L664.5,798.7 L666.0,798.2 L667.5,797.7 L668.9,797.2 L670.4,796.8 L671.9,796.4 L673.4,796.0 L674.9,795.7 L676.4,795.3 L677.9,795.0 L679.4,794.8 L680.9,794.5 L682.4,794.3 L683.9,794.1 L685.4,793.9 L686.9,793.8 L688.4,793.7 L689.9,793.6 L691.4,793.6 L692.9,793.6 L694.4,793.6 L695.9,793.7 L697.4,793.8 L698.9,793.9 L700.4,794.1 L701.9,794.3 L703.4,794.6 L704.9,794.9 L706.4,795.2 L707.9,795.6 L709.4,796.0 L710.8,796.4 L712.3,796.9 L713.8,797.5 L715.3,798.0 L716.8,798.7 L718.3,799.3 L719.8,800.0 L721.3,800.8 L722.8,801.6 L724.3,802.4 L725.8,803.3 L727.3,804.2 L728.8,805.2 L730.3,806.1 L731.8,807.1 L733.3,808.1 L734.8,809.1 L736.3,810.2 L737.8,811.2 L739.3,812.3 L740.8,813.4 L742.3,814.4 L743.8,815.5 L745.3,816.6 L746.8,817.6 L748.3,818.7 L749.8,819.7 L751.3,820.8 L752.7,821.8 L754.2,822.9 L755.7,824.0 L757.2,825.1 L758.7,826.2 L760.2,827.3 L761.7,828.5 L763.2,829.7 L764.7,831.0 L766.2,832.3 L767.7,833.6 L769.2,835.0 L770.7,836.5 L772.2,838.0 L773.7,839.5 L775.2,841.2 L776.7,842.8 L778.2,844.5 L779.7,846.2 L781.2,848.0 L782.7,849.8 L784.2,851.7 L785.7,853.6 L787.2,855.5 L788.7,857.4 L790.2,859.4 L791.7,861.4 L793.2,863.4 L794.6,865.4 L796.1,867.5 L797.6,869.5 L799.1,871.6 L800.6,873.7 L802.1,875.8 L803.6,878.0 L805.1,880.1 L806.6,882.2 L808.1,884.3 L809.6,886.5 L811.1,888.6 L812.6,890.7 L814.1,892.8 L815.6,894.9 L817.1,897.0 L818.6,899.1 L820.1,901.2 L821.6,903.3 L823.1,905.3" fill="none" stroke="#00FFFF" stroke-width="5" stroke-dasharray="14.80 14.35" stroke-dashoffset="22.44" clip-path="url(#cb)"/>
<path d="M160.0,651.3 L161.7,660.5 L163.3,669.5 L165.0,678.3 L166.6,687.1 L168.3,695.6 L170.0,704.1 L171.6,712.4 L173.3,720.5 L175.0,728.5 L176.6,736.4 L178.3,744.1 L179.9,751.7 L181.6,759.1 L183.3,766.4 L184.9,773.6 L186.6,780.6 L188.3,787.5 L189.9,794.2 L191.6,800.8 L193.2,807.3 L194.9,813.6 L196.6,819.8 L198.2,825.8 L199.9,831.8 L201.5,837.5 L203.2,843.2 L204.9,848.7 L206.5,854.0 L208.2,859.3 L209.9,864.4 L211.5,869.3 L213.2,874.1 L214.8,878.8 L216.5,883.4 L218.2,887.8 L219.8,892.1 L221.5,896.2 L223.2,900.2 L224.8,904.1 L226.5,907.9 L228.1,911.6 L229.8,915.1 L231.5,918.6 L233.1,922.0 L234.8,925.2 L236.4,928.4 L238.1,931.6 L239.8,934.6 L241.4,937.6 L243.1,940.5 L244.8,943.4 L246.4,946.2 L248.1,949.0 L249.7,951.7 L251.4,954.4 L253.1,957.0 L254.7,959.5 L256.4,962.0 L258.0,964.4 L259.7,966.8 L261.4,969.1 L263.0,971.4 L264.7,973.7 L266.4,975.8 L268.0,978.0 L269.7,980.0 L271.3,982.1 L273.0,984.1 L274.7,986.0 L276.3,987.9 L278.0,989.7 L279.7,991.5 L281.3,993.3 L283.0,995.0 L284.6,996.7 L286.3,998.3 L288.0,999.8 L289.6,1001.4 L291.3,1002.9 L292.9,1004.3 L294.6,1005.7 L296.3,1007.1 L297.9,1008.4 L299.6,1009.7 L301.3,1010.9 L302.9,1012.1 L304.6,1013.3 L306.2,1014.4 L307.9,1015.5 L309.6,1016.6 L311.2,1017.6 L312.9,1018.5 L314.6,1019.5 L316.2,1020.4 L317.9,1021.3 L319.5,1022.1 L321.2,1022.9 L322.9,1023.7 L324.5,1024.4 L326.2,1025.1 L327.8,1025.8 L329.5,1026.4 L331.2,1027.1 L332.8,1027.6 L334.5,1028.2 L336.2,1028.7 L337.8,1029.2 L339.5,1029.7 L341.1,1030.1 L342.8,1030.5 L344.5,1030.9 L346.1,1031.3 L347.8,1031.6 L349.5,1031.9 L351.1,1032.2 L352.8,1032.4 L354.4,1032.7 L356.1,1032.9 L357.8,1033.1 L359.4,1033.2 L361.1,1033.4 L362.7,1033.5 L364.4,1033.6 L366.1,1033.7 L367.7,1033.8 L369.4,1033.8 L371.1,1033.8 L372.7,1033.8 L374.4,1033.8 L376.0,1033.8 L377.7,1033.7 L379.4,1033.7 L381.0,1033.6 L382.7,1033.5 L384.4,1033.4 L386.0,1033.3 L387.7,1033.1 L389.3,1033.0 L391.0,1032.8 L392.7,1032.7 L394.3,1032.5 L396.0,1032.3 L397.6,1032.1 L399.3,1031.8 L401.0,1031.6 L402.6,1031.4 L404.3,1031.1 L406.0,1030.9 L407.6,1030.6 L409.3,1030.3 L410.9,1030.1 L412.6,1029.8 L414.3,1029.5 L415.9,1029.2 L417.6,1028.9 L419.2,1028.6 L420.9,1028.3 L422.6,1027.9 L424.2,1027.6 L425.9,1027.3 L427.6,1026.9 L429.2,1026.6 L430.9,1026.2 L432.5,1025.8 L434.2,1025.5 L435.9,1025.1 L437.5,1024.7 L439.2,1024.3 L440.9,1023.9 L442.5,1023.5 L444.2,1023.1 L445.8,1022.7 L447.5,1022.3 L449.2,1021.9 L450.8,1021.4 L452.5,1021.0 L454.1,1020.6 L455.8,1020.1 L457.5,1019.7 L459.1,1019.2 L460.8,1018.8 L462.5,1018.3 L464.1,1017.8 L465.8,1017.3 L467.4,1016.9 L469.1,1016.4 L470.8,1015.9 L472.4,1015.4 L474.1,1014.9 L475.8,1014.4 L477.4,1013.9 L479.1,1013.4 L480.7,1012.9 L482.4,1012.3 L484.1,1011.8 L485.7,1011.3 L487.4,1010.8 L489.0,1010.2 L490.7,1009.7 L492.4,1009.1 L494.0,1008.6 L495.7,1008.0 L497.4,1007.5 L499.0,1006.9 L500.7,1006.4 L502.3,1005.8 L504.0,1005.2 L505.7,1004.7 L507.3,1004.1 L509.0,1003.5 L510.7,1003.0 L512.3,1002.4 L514.0,1001.8 L515.6,1001.2 L517.3,1000.6 L519.0,1000.0 L520.6,999.4 L522.3,998.8 L523.9,998.2 L525.6,997.6 L527.3,997.0 L528.9,996.4 L530.6,995.8 L532.3,995.2 L533.9,994.6 L535.6,994.0 L537.2,993.4 L538.9,992.8 L540.6,992.2 L542.2,991.6 L543.9,991.0 L545.6,990.4 L547.2,989.8 L548.9,989.2 L550.5,988.7 L552.2,988.1 L553.9,987.5 L555.5,986.9 L557.2,986.3 L558.8,985.8 L560.5,985.2 L562.2,984.7 L563.8,984.1 L565.5,983.6 L567.2,983.0 L568.8,982.5 L570.5,982.0 L572.1,981.4 L573.8,980.9 L575.5,980.4 L577.1,979.9 L578.8,979.4 L580.4,979.0 L582.1,978.5 L583.8,978.0 L585.4,977.6 L587.1,977.1 L588.8,976.7 L590.4,976.3 L592.1,975.8 L593.7,975.4 L595.4,975.1 L597.1,974.7 L598.7,974.3 L600.4,973.9 L602.1,973.6 L603.7,973.3 L605.4,973.0 L607.0,972.7 L608.7,972.4 L610.4,972.1 L612.0,971.8 L613.7,971.6 L615.3,971.3 L617.0,971.1 L618.7,970.9 L620.3,970.7 L622.0,970.5 L623.7,970.3 L625.3,970.2 L627.0,970.0 L628.6,969.9 L630.3,969.8 L632.0,969.7 L633.6,969.6 L635.3,969.5 L637.0,969.5 L638.6,969.4 L640.3,969.4 L641.9,969.4 L643.6,969.4 L645.3,969.4 L646.9,969.4 L648.6,969.5 L650.2,969.5 L651.9,969.6 L653.6,969.7 L655.2,969.8 L656.9,969.9 L658.6,970.0 L660.2,970.2 L661.9,970.4 L663.5,970.5 L665.2,970.7 L666.9,970.9 L668.5,971.2 L670.2,971.4 L671.9,971.6 L673.5,971.9 L675.2,972.2 L676.8,972.5 L678.5,972.8 L680.2,973.2 L681.8,973.5 L683.5,973.9 L685.1,974.2 L686.8,974.6 L688.5,975.1 L690.1,975.5 L691.8,975.9 L693.5,976.4 L695.1,976.9 L696.8,977.4 L698.4,977.9 L700.1,978.4 L701.8,978.9 L703.4,979.5 L705.1,980.1 L706.8,980.7 L708.4,981.3 L710.1,981.9 L711.7,982.5 L713.4,983.2 L715.1,983.9 L716.7,984.6 L718.4,985.3 L720.0,986.0 L721.7,986.8 L723.4,987.5 L725.0,988.3 L726.7,989.1 L728.4,989.9 L730.0,990.8 L731.7,991.6 L733.3,992.5 L735.0,993.4 L736.7,994.3 L738.3,995.2 L740.0,996.1 L741.6,997.1 L743.3,998.1 L745.0,999.1 L746.6,1000.1 L748.3,1001.1 L750.0,1002.2 L751.6,1003.2 L753.3,1004.3 L754.9,1005.4 L756.6,1006.6 L758.3,1007.7 L759.9,1008.9 L761.6,1010.0 L763.3,1011.2 L764.9,1012.5 L766.6,1013.7 L768.2,1014.9 L769.9,1016.2 L771.6,1017.5 L773.2,1018.8 L774.9,1020.2 L776.5,1021.5 L778.2,1022.9 L779.9,1024.3 L781.5,1025.7 L783.2,1027.1 L784.9,1028.6 L786.5,1030.0 L788.2,1031.5 L789.8,1033.0 L791.5,1034.6 L793.2,1036.1 L794.8,1037.7 L796.5,1039.3 L798.2,1040.9 L799.8,1042.5 L801.5,1044.1 L803.1,1045.8 L804.8,1047.5 L806.5,1049.2 L808.1,1050.9 L809.8,1052.7 L811.4,1054.5 L813.1,1056.3 L814.8,1058.1 L816.4,1059.9 L818.1,1061.8 L819.8,1063.6 L821.4,1065.5 L823.1,1067.4" fill="none" stroke="#40BFFF" stroke-width="5" stroke-dasharray="14.80 14.35" stroke-dashoffset="26.08" clip-path="url(#cb)"/>
<path d="M131.0,645.8 L132.7,657.0 L134.5,667.9 L136.2,678.6 L137.9,689.0 L139.7,699.2 L141.4,709.2 L143.1,718.9 L144.9,728.3 L146.6,737.6 L148.3,746.6 L150.1,755.4 L151.8,764.0 L153.5,772.4 L155.3,780.6 L157.0,788.6 L158.8,796.4 L160.5,804.0 L162.2,811.4 L164.0,818.6 L165.7,825.7 L167.4,832.6 L169.2,839.3 L170.9,845.8 L172.6,852.2 L174.4,858.5 L176.1,864.6 L177.8,870.5 L179.6,876.3 L181.3,882.0 L183.0,887.5 L184.8,892.9 L186.5,898.2 L188.2,903.4 L190.0,908.4 L191.7,913.3 L193.4,918.1 L195.2,922.8 L196.9,927.3 L198.6,931.8 L200.4,936.1 L202.1,940.4 L203.9,944.5 L205.6,948.5 L207.3,952.4 L209.1,956.2 L210.8,960.0 L212.5,963.6 L214.3,967.1 L216.0,970.6 L217.7,973.9 L219.5,977.2 L221.2,980.4 L222.9,983.4 L224.7,986.5 L226.4,989.4 L228.1,992.3 L229.9,995.0 L231.6,997.7 L233.3,1000.4 L235.1,1003.0 L236.8,1005.5 L238.5,1007.9 L240.3,1010.3 L242.0,1012.6 L243.7,1014.8 L245.5,1017.0 L247.2,1019.2 L248.9,1021.3 L250.7,1023.3 L252.4,1025.3 L254.2,1027.2 L255.9,1029.1 L257.6,1031.0 L259.4,1032.8 L261.1,1034.6 L262.8,1036.3 L264.6,1038.0 L266.3,1039.7 L268.0,1041.3 L269.8,1042.9 L271.5,1044.5 L273.2,1046.0 L275.0,1047.5 L276.7,1048.9 L278.4,1050.3 L280.2,1051.7 L281.9,1053.1 L283.6,1054.4 L285.4,1055.7 L287.1,1056.9 L288.8,1058.1 L290.6,1059.3 L292.3,1060.4 L294.0,1061.5 L295.8,1062.6 L297.5,1063.7 L299.3,1064.7 L301.0,1065.7 L302.7,1066.7 L304.5,1067.6 L306.2,1068.5 L307.9,1069.4 L309.7,1070.2 L311.4,1071.0 L313.1,1071.8 L314.9,1072.6 L316.6,1073.3 L318.3,1074.1 L320.1,1074.7 L321.8,1075.4 L323.5,1076.0 L325.3,1076.6 L327.0,1077.2 L328.7,1077.8 L330.5,1078.3 L332.2,1078.8 L333.9,1079.3 L335.7,1079.8 L337.4,1080.3 L339.1,1080.7 L340.9,1081.1 L342.6,1081.5 L344.3,1081.8 L346.1,1082.2 L347.8,1082.5 L349.6,1082.8 L351.3,1083.1 L353.0,1083.3 L354.8,1083.6 L356.5,1083.8 L358.2,1084.0 L360.0,1084.2 L361.7,1084.3 L363.4,1084.5 L365.2,1084.6 L366.9,1084.8 L368.6,1084.9 L370.4,1084.9 L372.1,1085.0 L373.8,1085.1 L375.6,1085.1 L377.3,1085.2 L379.0,1085.2 L380.8,1085.2 L382.5,1085.2 L384.2,1085.1 L386.0,1085.1 L387.7,1085.1 L389.4,1085.0 L391.2,1084.9 L392.9,1084.8 L394.6,1084.7 L396.4,1084.6 L398.1,1084.5 L399.9,1084.4 L401.6,1084.2 L403.3,1084.1 L405.1,1083.9 L406.8,1083.7 L408.5,1083.5 L410.3,1083.3 L412.0,1083.1 L413.7,1082.9 L415.5,1082.6 L417.2,1082.4 L418.9,1082.2 L420.7,1081.9 L422.4,1081.6 L424.1,1081.3 L425.9,1081.1 L427.6,1080.8 L429.3,1080.5 L431.1,1080.1 L432.8,1079.8 L434.5,1079.5 L436.3,1079.1 L438.0,1078.8 L439.7,1078.5 L441.5,1078.1 L443.2,1077.7 L445.0,1077.4 L446.7,1077.0 L448.4,1076.6 L450.2,1076.2 L451.9,1075.8 L453.6,1075.4 L455.4,1075.0 L457.1,1074.6 L458.8,1074.1 L460.6,1073.7 L462.3,1073.3 L464.0,1072.9 L465.8,1072.4 L467.5,1072.0 L469.2,1071.5 L471.0,1071.1 L472.7,1070.6 L474.4,1070.2 L476.2,1069.7 L477.9,1069.2 L479.6,1068.8 L481.4,1068.3 L483.1,1067.8 L484.8,1067.3 L486.6,1066.9 L488.3,1066.4 L490.0,1065.9 L491.8,1065.4 L493.5,1064.9 L495.3,1064.4 L497.0,1064.0 L498.7,1063.5 L500.5,1063.0 L502.2,1062.5 L503.9,1062.0 L505.7,1061.5 L507.4,1061.0 L509.1,1060.5 L510.9,1060.1 L512.6,1059.6 L514.3,1059.1 L516.1,1058.6 L517.8,1058.1 L519.5,1057.6 L521.3,1057.1 L523.0,1056.7 L524.7,1056.2 L526.5,1055.7 L528.2,1055.2 L529.9,1054.8 L531.7,1054.3 L533.4,1053.8 L535.1,1053.4 L536.9,1052.9 L538.6,1052.5 L540.4,1052.0 L542.1,1051.6 L543.8,1051.1 L545.6,1050.7 L547.3,1050.3 L549.0,1049.8 L550.8,1049.4 L552.5,1049.0 L554.2,1048.6 L556.0,1048.2 L557.7,1047.8 L559.4,1047.4 L561.2,1047.0 L562.9,1046.6 L564.6,1046.2 L566.4,1045.8 L568.1,1045.5 L569.8,1045.1 L571.6,1044.8 L573.3,1044.4 L575.0,1044.1 L576.8,1043.8 L578.5,1043.4 L580.2,1043.1 L582.0,1042.8 L583.7,1042.5 L585.4,1042.2 L587.2,1042.0 L588.9,1041.7 L590.7,1041.4 L592.4,1041.2 L594.1,1041.0 L595.9,1040.7 L597.6,1040.5 L599.3,1040.3 L601.1,1040.1 L602.8,1039.9 L604.5,1039.7 L606.3,1039.6 L608.0,1039.4 L609.7,1039.3 L611.5,1039.1 L613.2,1039.0 L614.9,1038.9 L616.7,1038.8 L618.4,1038.7 L620.1,1038.6 L621.9,1038.5 L623.6,1038.5 L625.3,1038.4 L627.1,1038.4 L628.8,1038.4 L630.5,1038.3 L632.3,1038.3 L634.0,1038.4 L635.8,1038.4 L637.5,1038.4 L639.2,1038.5 L641.0,1038.5 L642.7,1038.6 L644.4,1038.7 L646.2,1038.7 L647.9,1038.8 L649.6,1039.0 L651.4,1039.1 L653.1,1039.2 L654.8,1039.4 L656.6,1039.5 L658.3,1039.7 L660.0,1039.9 L661.8,1040.1 L663.5,1040.3 L665.2,1040.5 L667.0,1040.8 L668.7,1041.0 L670.4,1041.3 L672.2,1041.6 L673.9,1041.9 L675.6,1042.2 L677.4,1042.5 L679.1,1042.8 L680.8,1043.1 L682.6,1043.5 L684.3,1043.9 L686.1,1044.2 L687.8,1044.6 L689.5,1045.1 L691.3,1045.5 L693.0,1045.9 L694.7,1046.4 L696.5,1046.8 L698.2,1047.3 L699.9,1047.8 L701.7,1048.3 L703.4,1048.8 L705.1,1049.3 L706.9,1049.9 L708.6,1050.4 L710.3,1051.0 L712.1,1051.6 L713.8,1052.2 L715.5,1052.8 L717.3,1053.5 L719.0,1054.1 L720.7,1054.8 L722.5,1055.4 L724.2,1056.1 L725.9,1056.8 L727.7,1057.5 L729.4,1058.3 L731.1,1059.0 L732.9,1059.8 L734.6,1060.6 L736.4,1061.4 L738.1,1062.2 L739.8,1063.0 L741.6,1063.8 L743.3,1064.7 L745.0,1065.6 L746.8,1066.4 L748.5,1067.4 L750.2,1068.3 L752.0,1069.2 L753.7,1070.1 L755.4,1071.1 L757.2,1072.1 L758.9,1073.1 L760.6,1074.1 L762.4,1075.1 L764.1,1076.2 L765.8,1077.2 L767.6,1078.3 L769.3,1079.4 L771.0,1080.5 L772.8,1081.6 L774.5,1082.8 L776.2,1083.9 L778.0,1085.1 L779.7,1086.3 L781.5,1087.5 L783.2,1088.7 L784.9,1090.0 L786.7,1091.2 L788.4,1092.5 L790.1,1093.8 L791.9,1095.1 L793.6,1096.4 L795.3,1097.8 L797.1,1099.1 L798.8,1100.5 L800.5,1101.9 L802.3,1103.3 L804.0,1104.8 L805.7,1106.2 L807.5,1107.7 L809.2,1109.1 L810.9,1110.6 L812.7,1112.2 L814.4,1113.7 L816.1,1115.3 L817.9,1116.8 L819.6,1118.4 L821.3,1120.0 L823.1,1121.7" fill="none" stroke="#8080FF" stroke-width="5" stroke-dasharray="14.80 14.35" stroke-dashoffset="23.44" clip-path="url(#cb)"/>
<path d="M118.2,697.0 L120.0,708.6 L121.7,719.9 L123.5,730.8 L125.3,741.4 L127.0,751.6 L128.8,761.6 L130.6,771.3 L132.3,780.7 L134.1,789.8 L135.9,798.6 L137.6,807.2 L139.4,815.6 L141.2,823.7 L142.9,831.6 L144.7,839.3 L146.5,846.8 L148.2,854.1 L150.0,861.1 L151.8,868.0 L153.5,874.7 L155.3,881.3 L157.1,887.6 L158.8,893.9 L160.6,899.9 L162.4,905.8 L164.1,911.6 L165.9,917.3 L167.7,922.8 L169.4,928.2 L171.2,933.5 L173.0,938.6 L174.7,943.6 L176.5,948.5 L178.3,953.3 L180.0,957.9 L181.8,962.5 L183.6,966.9 L185.3,971.2 L187.1,975.5 L188.9,979.6 L190.6,983.6 L192.4,987.5 L194.2,991.3 L195.9,995.0 L197.7,998.7 L199.5,1002.2 L201.2,1005.6 L203.0,1009.0 L204.8,1012.3 L206.5,1015.5 L208.3,1018.6 L210.1,1021.6 L211.8,1024.6 L213.6,1027.5 L215.4,1030.3 L217.1,1033.1 L218.9,1035.8 L220.7,1038.4 L222.4,1041.0 L224.2,1043.5 L226.0,1045.9 L227.7,1048.3 L229.5,1050.6 L231.3,1052.9 L233.0,1055.1 L234.8,1057.3 L236.6,1059.4 L238.3,1061.5 L240.1,1063.5 L241.9,1065.4 L243.6,1067.3 L245.4,1069.2 L247.2,1071.0 L248.9,1072.7 L250.7,1074.4 L252.5,1076.1 L254.2,1077.7 L256.0,1079.3 L257.8,1080.8 L259.5,1082.3 L261.3,1083.7 L263.1,1085.1 L264.8,1086.5 L266.6,1087.8 L268.4,1089.1 L270.1,1090.3 L271.9,1091.6 L273.7,1092.7 L275.4,1093.9 L277.2,1095.0 L279.0,1096.1 L280.7,1097.1 L282.5,1098.1 L284.3,1099.1 L286.0,1100.0 L287.8,1101.0 L289.6,1101.9 L291.3,1102.7 L293.1,1103.6 L294.9,1104.4 L296.6,1105.2 L298.4,1105.9 L300.2,1106.7 L301.9,1107.4 L303.7,1108.1 L305.5,1108.8 L307.2,1109.5 L309.0,1110.1 L310.8,1110.7 L312.5,1111.3 L314.3,1111.9 L316.1,1112.5 L317.8,1113.1 L319.6,1113.6 L321.4,1114.1 L323.1,1114.6 L324.9,1115.1 L326.7,1115.5 L328.4,1116.0 L330.2,1116.4 L332.0,1116.8 L333.7,1117.2 L335.5,1117.6 L337.3,1118.0 L339.0,1118.3 L340.8,1118.6 L342.6,1119.0 L344.3,1119.2 L346.1,1119.5 L347.9,1119.8 L349.6,1120.0 L351.4,1120.3 L353.2,1120.5 L354.9,1120.7 L356.7,1120.9 L358.5,1121.1 L360.2,1121.2 L362.0,1121.4 L363.8,1121.5 L365.5,1121.6 L367.3,1121.7 L369.1,1121.8 L370.8,1121.9 L372.6,1122.0 L374.4,1122.0 L376.1,1122.1 L377.9,1122.1 L379.7,1122.1 L381.4,1122.1 L383.2,1122.1 L385.0,1122.1 L386.7,1122.1 L388.5,1122.0 L390.3,1122.0 L392.0,1121.9 L393.8,1121.8 L395.6,1121.8 L397.3,1121.7 L399.1,1121.6 L400.9,1121.4 L402.6,1121.3 L404.4,1121.2 L406.2,1121.0 L407.9,1120.9 L409.7,1120.7 L411.5,1120.5 L413.2,1120.4 L415.0,1120.2 L416.8,1120.0 L418.5,1119.8 L420.3,1119.5 L422.1,1119.3 L423.8,1119.1 L425.6,1118.8 L427.4,1118.6 L429.1,1118.3 L430.9,1118.1 L432.7,1117.8 L434.4,1117.5 L436.2,1117.2 L438.0,1116.9 L439.7,1116.6 L441.5,1116.3 L443.3,1116.0 L445.0,1115.7 L446.8,1115.4 L448.6,1115.1 L450.3,1114.7 L452.1,1114.4 L453.9,1114.1 L455.6,1113.7 L457.4,1113.4 L459.2,1113.0 L460.9,1112.6 L462.7,1112.3 L464.5,1111.9 L466.2,1111.5 L468.0,1111.2 L469.8,1110.8 L471.5,1110.4 L473.3,1110.0 L475.1,1109.6 L476.8,1109.2 L478.6,1108.8 L480.4,1108.4 L482.1,1108.1 L483.9,1107.7 L485.7,1107.3 L487.4,1106.8 L489.2,1106.4 L491.0,1106.0 L492.7,1105.6 L494.5,1105.2 L496.3,1104.8 L498.0,1104.4 L499.8,1104.0 L501.6,1103.6 L503.3,1103.2 L505.1,1102.8 L506.9,1102.4 L508.6,1101.9 L510.4,1101.5 L512.2,1101.1 L513.9,1100.7 L515.7,1100.3 L517.5,1099.9 L519.2,1099.5 L521.0,1099.1 L522.8,1098.7 L524.5,1098.3 L526.3,1097.9 L528.1,1097.5 L529.8,1097.1 L531.6,1096.7 L533.4,1096.4 L535.1,1096.0 L536.9,1095.6 L538.7,1095.2 L540.4,1094.9 L542.2,1094.5 L544.0,1094.1 L545.7,1093.8 L547.5,1093.4 L549.3,1093.1 L551.0,1092.7 L552.8,1092.4 L554.6,1092.0 L556.3,1091.7 L558.1,1091.4 L559.9,1091.1 L561.6,1090.7 L563.4,1090.4 L565.2,1090.1 L566.9,1089.8 L568.7,1089.5 L570.5,1089.3 L572.2,1089.0 L574.0,1088.7 L575.8,1088.4 L577.5,1088.2 L579.3,1087.9 L581.1,1087.7 L582.8,1087.5 L584.6,1087.2 L586.4,1087.0 L588.1,1086.8 L589.9,1086.6 L591.7,1086.4 L593.4,1086.2 L595.2,1086.1 L597.0,1085.9 L598.7,1085.7 L600.5,1085.6 L602.3,1085.5 L604.0,1085.3 L605.8,1085.2 L607.6,1085.1 L609.3,1085.0 L611.1,1084.9 L612.9,1084.8 L614.6,1084.8 L616.4,1084.7 L618.2,1084.7 L619.9,1084.6 L621.7,1084.6 L623.5,1084.6 L625.2,1084.5 L627.0,1084.5 L628.8,1084.6 L630.5,1084.6 L632.3,1084.6 L634.1,1084.6 L635.8,1084.7 L637.6,1084.7 L639.4,1084.8 L641.1,1084.9 L642.9,1085.0 L644.7,1085.1 L646.4,1085.2 L648.2,1085.3 L650.0,1085.5 L651.7,1085.6 L653.5,1085.8 L655.3,1085.9 L657.0,1086.1 L658.8,1086.3 L660.6,1086.5 L662.3,1086.7 L664.1,1086.9 L665.9,1087.1 L667.6,1087.4 L669.4,1087.6 L671.2,1087.9 L672.9,1088.2 L674.7,1088.5 L676.5,1088.8 L678.2,1089.1 L680.0,1089.4 L681.8,1089.7 L683.5,1090.1 L685.3,1090.4 L687.1,1090.8 L688.8,1091.2 L690.6,1091.6 L692.4,1092.0 L694.1,1092.4 L695.9,1092.8 L697.7,1093.3 L699.4,1093.7 L701.2,1094.2 L703.0,1094.7 L704.7,1095.2 L706.5,1095.7 L708.2,1096.2 L710.0,1096.7 L711.8,1097.3 L713.5,1097.8 L715.3,1098.4 L717.1,1099.0 L718.8,1099.6 L720.6,1100.2 L722.4,1100.8 L724.1,1101.4 L725.9,1102.1 L727.7,1102.7 L729.4,1103.4 L731.2,1104.1 L733.0,1104.8 L734.7,1105.5 L736.5,1106.2 L738.3,1107.0 L740.0,1107.7 L741.8,1108.5 L743.6,1109.3 L745.3,1110.1 L747.1,1110.9 L748.9,1111.7 L750.6,1112.5 L752.4,1113.4 L754.2,1114.2 L755.9,1115.1 L757.7,1116.0 L759.5,1116.9 L761.2,1117.8 L763.0,1118.7 L764.8,1119.7 L766.5,1120.7 L768.3,1121.6 L770.1,1122.6 L771.8,1123.6 L773.6,1124.6 L775.4,1125.7 L777.1,1126.7 L778.9,1127.8 L780.7,1128.9 L782.4,1130.0 L784.2,1131.1 L786.0,1132.2 L787.7,1133.3 L789.5,1134.5 L791.3,1135.6 L793.0,1136.8 L794.8,1138.0 L796.6,1139.2 L798.3,1140.5 L800.1,1141.7 L801.9,1143.0 L803.6,1144.2 L805.4,1145.5 L807.2,1146.8 L808.9,1148.2 L810.7,1149.5 L812.5,1150.9 L814.2,1152.2 L816.0,1153.6 L817.8,1155.0 L819.5,1156.4 L821.3,1157.9 L823.1,1159.3" fill="none" stroke="#BF40FF" stroke-width="5" stroke-dasharray="14.80 14.35" stroke-dashoffset="0.49" clip-path="url(#cb)"/>
<path d="M118.2,801.2 L120.0,809.6 L121.7,817.8 L123.5,825.9 L125.3,833.9 L127.0,841.7 L128.8,849.3 L130.6,856.8 L132.3,864.1 L134.1,871.2 L135.9,878.2 L137.6,885.1 L139.4,891.8 L141.2,898.4 L142.9,904.8 L144.7,911.1 L146.5,917.3 L148.2,923.3 L150.0,929.2 L151.8,935.0 L153.5,940.6 L155.3,946.1 L157.1,951.5 L158.8,956.8 L160.6,961.9 L162.4,967.0 L164.1,971.9 L165.9,976.7 L167.7,981.4 L169.4,986.0 L171.2,990.4 L173.0,994.8 L174.7,999.1 L176.5,1003.2 L178.3,1007.3 L180.0,1011.3 L181.8,1015.2 L183.6,1018.9 L185.3,1022.6 L187.1,1026.2 L188.9,1029.7 L190.6,1033.2 L192.4,1036.5 L194.2,1039.7 L195.9,1042.9 L197.7,1046.0 L199.5,1049.0 L201.2,1052.0 L203.0,1054.8 L204.8,1057.6 L206.5,1060.3 L208.3,1063.0 L210.1,1065.5 L211.8,1068.1 L213.6,1070.5 L215.4,1072.9 L217.1,1075.2 L218.9,1077.5 L220.7,1079.7 L222.4,1081.8 L224.2,1083.9 L226.0,1085.9 L227.7,1087.9 L229.5,1089.9 L231.3,1091.7 L233.0,1093.6 L234.8,1095.4 L236.6,1097.1 L238.3,1098.8 L240.1,1100.5 L241.9,1102.2 L243.6,1103.7 L245.4,1105.3 L247.2,1106.8 L248.9,1108.3 L250.7,1109.8 L252.5,1111.2 L254.2,1112.6 L256.0,1113.9 L257.8,1115.2 L259.5,1116.5 L261.3,1117.8 L263.1,1119.0 L264.8,1120.2 L266.6,1121.3 L268.4,1122.5 L270.1,1123.6 L271.9,1124.6 L273.7,1125.7 L275.4,1126.7 L277.2,1127.6 L279.0,1128.6 L280.7,1129.5 L282.5,1130.4 L284.3,1131.3 L286.0,1132.1 L287.8,1132.9 L289.6,1133.7 L291.3,1134.5 L293.1,1135.2 L294.9,1135.9 L296.6,1136.6 L298.4,1137.3 L300.2,1137.9 L301.9,1138.5 L303.7,1139.1 L305.5,1139.7 L307.2,1140.3 L309.0,1140.8 L310.8,1141.3 L312.5,1141.8 L314.3,1142.3 L316.1,1142.7 L317.8,1143.2 L319.6,1143.6 L321.4,1144.0 L323.1,1144.4 L324.9,1144.7 L326.7,1145.1 L328.4,1145.4 L330.2,1145.7 L332.0,1146.0 L333.7,1146.3 L335.5,1146.6 L337.3,1146.8 L339.0,1147.1 L340.8,1147.3 L342.6,1147.5 L344.3,1147.7 L346.1,1147.9 L347.9,1148.1 L349.6,1148.3 L351.4,1148.5 L353.2,1148.6 L354.9,1148.7 L356.7,1148.9 L358.5,1149.0 L360.2,1149.1 L362.0,1149.2 L363.8,1149.2 L365.5,1149.3 L367.3,1149.4 L369.1,1149.4 L370.8,1149.4 L372.6,1149.5 L374.4,1149.5 L376.1,1149.5 L377.9,1149.5 L379.7,1149.5 L381.4,1149.4 L383.2,1149.4 L385.0,1149.3 L386.7,1149.3 L388.5,1149.2 L390.3,1149.2 L392.0,1149.1 L393.8,1149.0 L395.6,1148.9 L397.3,1148.8 L399.1,1148.7 L400.9,1148.6 L402.6,1148.4 L404.4,1148.3 L406.2,1148.1 L407.9,1148.0 L409.7,1147.8 L411.5,1147.7 L413.2,1147.5 L415.0,1147.3 L416.8,1147.1 L418.5,1146.9 L420.3,1146.7 L422.1,1146.5 L423.8,1146.3 L425.6,1146.1 L427.4,1145.9 L429.1,1145.6 L430.9,1145.4 L432.7,1145.2 L434.4,1144.9 L436.2,1144.7 L438.0,1144.4 L439.7,1144.1 L441.5,1143.9 L443.3,1143.6 L445.0,1143.3 L446.8,1143.0 L448.6,1142.8 L450.3,1142.5 L452.1,1142.2 L453.9,1141.9 L455.6,1141.6 L457.4,1141.3 L459.2,1141.0 L460.9,1140.7 L462.7,1140.3 L464.5,1140.0 L466.2,1139.7 L468.0,1139.4 L469.8,1139.1 L471.5,1138.7 L473.3,1138.4 L475.1,1138.1 L476.8,1137.8 L478.6,1137.4 L480.4,1137.1 L482.1,1136.7 L483.9,1136.4 L485.7,1136.1 L487.4,1135.7 L489.2,1135.4 L491.0,1135.0 L492.7,1134.7 L494.5,1134.4 L496.3,1134.0 L498.0,1133.7 L499.8,1133.3 L501.6,1133.0 L503.3,1132.6 L505.1,1132.3 L506.9,1132.0 L508.6,1131.6 L510.4,1131.3 L512.2,1130.9 L513.9,1130.6 L515.7,1130.3 L517.5,1129.9 L519.2,1129.6 L521.0,1129.3 L522.8,1128.9 L524.5,1128.6 L526.3,1128.3 L528.1,1127.9 L529.8,1127.6 L531.6,1127.3 L533.4,1127.0 L535.1,1126.7 L536.9,1126.4 L538.7,1126.1 L540.4,1125.7 L542.2,1125.4 L544.0,1125.2 L545.7,1124.9 L547.5,1124.6 L549.3,1124.3 L551.0,1124.0 L552.8,1123.7 L554.6,1123.4 L556.3,1123.2 L558.1,1122.9 L559.9,1122.7 L561.6,1122.4 L563.4,1122.1 L565.2,1121.9 L566.9,1121.7 L568.7,1121.4 L570.5,1121.2 L572.2,1121.0 L574.0,1120.8 L575.8,1120.6 L577.5,1120.4 L579.3,1120.2 L581.1,1120.0 L582.8,1119.8 L584.6,1119.6 L586.4,1119.4 L588.1,1119.3 L589.9,1119.1 L591.7,1119.0 L593.4,1118.8 L595.2,1118.7 L597.0,1118.6 L598.7,1118.5 L600.5,1118.3 L602.3,1118.2 L604.0,1118.2 L605.8,1118.1 L607.6,1118.0 L609.3,1117.9 L611.1,1117.9 L612.9,1117.8 L614.6,1117.8 L616.4,1117.7 L618.2,1117.7 L619.9,1117.7 L621.7,1117.7 L623.5,1117.7 L625.2,1117.7 L627.0,1117.7 L628.8,1117.8 L630.5,1117.8 L632.3,1117.9 L634.1,1117.9 L635.8,1118.0 L637.6,1118.1 L639.4,1118.1 L641.1,1118.2 L642.9,1118.3 L644.7,1118.4 L646.4,1118.6 L648.2,1118.7 L650.0,1118.8 L651.7,1119.0 L653.5,1119.1 L655.3,1119.3 L657.0,1119.5 L658.8,1119.7 L660.6,1119.9 L662.3,1120.1 L664.1,1120.3 L665.9,1120.5 L667.6,1120.8 L669.4,1121.0 L671.2,1121.3 L672.9,1121.5 L674.7,1121.8 L676.5,1122.1 L678.2,1122.4 L680.0,1122.7 L681.8,1123.0 L683.5,1123.4 L685.3,1123.7 L687.1,1124.0 L688.8,1124.4 L690.6,1124.8 L692.4,1125.2 L694.1,1125.5 L695.9,1125.9 L697.7,1126.4 L699.4,1126.8 L701.2,1127.2 L703.0,1127.7 L704.7,1128.1 L706.5,1128.6 L708.2,1129.1 L710.0,1129.5 L711.8,1130.0 L713.5,1130.5 L715.3,1131.1 L717.1,1131.6 L718.8,1132.1 L720.6,1132.7 L722.4,1133.2 L724.1,1133.8 L725.9,1134.4 L727.7,1135.0 L729.4,1135.6 L731.2,1136.2 L733.0,1136.9 L734.7,1137.5 L736.5,1138.2 L738.3,1138.8 L740.0,1139.5 L741.8,1140.2 L743.6,1140.9 L745.3,1141.6 L747.1,1142.3 L748.9,1143.1 L750.6,1143.8 L752.4,1144.6 L754.2,1145.3 L755.9,1146.1 L757.7,1146.9 L759.5,1147.7 L761.2,1148.5 L763.0,1149.4 L764.8,1150.2 L766.5,1151.1 L768.3,1151.9 L770.1,1152.8 L771.8,1153.7 L773.6,1154.6 L775.4,1155.5 L777.1,1156.4 L778.9,1157.4 L780.7,1158.3 L782.4,1159.3 L784.2,1160.3 L786.0,1161.3 L787.7,1162.3 L789.5,1163.3 L791.3,1164.3 L793.0,1165.3 L794.8,1166.4 L796.6,1167.5 L798.3,1168.5 L800.1,1169.6 L801.9,1170.7 L803.6,1171.9 L805.4,1173.0 L807.2,1174.1 L808.9,1175.3 L810.7,1176.5 L812.5,1177.6 L814.2,1178.8 L816.0,1180.0 L817.8,1181.3 L819.5,1182.5 L821.3,1183.8 L823.1,1185.0" fill="none" stroke="#FF00FF" stroke-width="5" stroke-dasharray="14.80 14.35" stroke-dashoffset="3.53" clip-path="url(#cb)"/>
<rect x="272.90" y="696.10" width="311.4" height="123.9" fill="#fff" stroke="#262626" stroke-width="1.6"/>
<circle cx="316.7" cy="718.8" r="9.5" fill="none" stroke="#FF00FF" stroke-width="5"/>
<path d="M306.4,747.7L327.2,768.5M306.4,768.5L327.2,747.7" stroke="#FF00FF" stroke-width="5" fill="none"/>
<line x1="280.30" y1="797.10" x2="353.30" y2="797.10" stroke="#FF00FF" stroke-width="5.2" stroke-dasharray="14.8 14.4"/>
<text transform="translate(358.80,730.30) scale(1,1.025)" font-size="29.30" fill="#000" stroke="#000">Local Fit</text>
<text transform="translate(358.80,769.30) scale(1,1.025)" font-size="29.30" fill="#000" stroke="#000">Model Fit</text>
<text transform="translate(358.80,808.30) scale(1,1.025)" font-size="29.30" fill="#000" stroke="#000">Model Prediction</text>
<text transform="translate(128.00,1157.30) scale(1,1.025)" font-size="29.30" fill="#000" stroke="#000">R</text>
<text transform="translate(149.25,1143.80) scale(1,1.025)" font-size="24.00" fill="#000" stroke="#000">2</text>
<text transform="translate(149.55,1172.30) scale(1,1.025)" font-size="24.00" fill="#000" stroke="#000">adj</text>
<text transform="translate(191.15,1157.30) scale(1,1.025)" font-size="29.30" fill="#000" stroke="#000">= 0.943</text>
<text transform="translate(127.60,1208.30) scale(1,1.025)" font-size="29.30" fill="#000" stroke="#000">MAE = 0.0255</text>
<rect x="917.60" y="725.50" width="21.60" height="448.00" fill="url(#gcool)" stroke="#262626" stroke-width="1.6"/>
<text transform="translate(905.20,1185.40) scale(1,1.025)" font-size="29.30" text-anchor="end" fill="#262626" stroke="#262626">0</text>
<line x1="917.60" y1="1061.50" x2="922.10" y2="1061.50" stroke="#262626" stroke-width="1.6"/>
<text transform="translate(905.20,1073.40) scale(1,1.025)" font-size="29.30" text-anchor="end" fill="#262626" stroke="#262626">0.25</text>
<line x1="917.60" y1="949.50" x2="922.10" y2="949.50" stroke="#262626" stroke-width="1.6"/>
<text transform="translate(905.20,961.40) scale(1,1.025)" font-size="29.30" text-anchor="end" fill="#262626" stroke="#262626">0.5</text>
<line x1="917.60" y1="837.50" x2="922.10" y2="837.50" stroke="#262626" stroke-width="1.6"/>
<text transform="translate(905.20,849.40) scale(1,1.025)" font-size="29.30" text-anchor="end" fill="#262626" stroke="#262626">0.75</text>
<path transform="translate(888.90,737.40) scale(0.01431,0.01431)" d="M763,0L583,0L583,-1147Q518,-1085 432,-1034.5Q346,-984 223,-938L223,-1112Q444,-1216 534,-1298Q624,-1380 679,-1466L763,-1466Z" fill="#262626" stroke="#262626" stroke-width="0.8" vector-effect="non-scaling-stroke" stroke-linejoin="round"/>
<text transform="translate(905.20,737.40) scale(1,1.025)" font-size="29.30" text-anchor="end" fill="#262626" stroke="#262626"> </text>
<text transform="translate(975.30,953.30) rotate(-90) scale(1,1.025)" font-size="29.30" text-anchor="middle" fill="#262626" stroke="#262626">SOC</text>
<path transform="translate(105.58,1258.50) scale(0.01431,0.01431)" d="M763,0L583,0L583,-1147Q518,-1085 432,-1034.5Q346,-984 223,-938L223,-1112Q444,-1216 534,-1298Q624,-1380 679,-1466L763,-1466Z" fill="#262626" stroke="#262626" stroke-width="0.8" vector-effect="non-scaling-stroke" stroke-linejoin="round"/>
<text transform="translate(117.00,1258.50) scale(1,1.025)" font-size="29.30" text-anchor="middle" fill="#262626" stroke="#262626">- 0</text>
<text transform="translate(205.11,1258.50) scale(1,1.025)" font-size="29.30" text-anchor="middle" fill="#262626" stroke="#262626">0</text>
<path transform="translate(276.92,1258.50) scale(0.01431,0.01431)" d="M763,0L583,0L583,-1147Q518,-1085 432,-1034.5Q346,-984 223,-938L223,-1112Q444,-1216 534,-1298Q624,-1380 679,-1466L763,-1466Z" fill="#262626" stroke="#262626" stroke-width="0.8" vector-effect="non-scaling-stroke" stroke-linejoin="round"/>
<text transform="translate(293.22,1258.50) scale(1,1.025)" font-size="29.30" text-anchor="middle" fill="#262626" stroke="#262626"> 0</text>
<text transform="translate(381.33,1258.50) scale(1,1.025)" font-size="29.30" text-anchor="middle" fill="#262626" stroke="#262626">20</text>
<text transform="translate(469.44,1258.50) scale(1,1.025)" font-size="29.30" text-anchor="middle" fill="#262626" stroke="#262626">30</text>
<text transform="translate(557.55,1258.50) scale(1,1.025)" font-size="29.30" text-anchor="middle" fill="#262626" stroke="#262626">40</text>
<text transform="translate(645.66,1258.50) scale(1,1.025)" font-size="29.30" text-anchor="middle" fill="#262626" stroke="#262626">50</text>
<text transform="translate(733.77,1258.50) scale(1,1.025)" font-size="29.30" text-anchor="middle" fill="#262626" stroke="#262626">60</text>
<text transform="translate(821.88,1258.50) scale(1,1.025)" font-size="29.30" text-anchor="middle" fill="#262626" stroke="#262626">70</text>
<text transform="translate(105.70,1161.82) scale(1,1.025)" font-size="29.30" text-anchor="end" fill="#262626" stroke="#262626">0.4</text>
<text transform="translate(105.70,1027.98) scale(1,1.025)" font-size="29.30" text-anchor="end" fill="#262626" stroke="#262626">0.6</text>
<text transform="translate(105.70,894.14) scale(1,1.025)" font-size="29.30" text-anchor="end" fill="#262626" stroke="#262626">0.8</text>
<path transform="translate(89.40,760.30) scale(0.01431,0.01431)" d="M763,0L583,0L583,-1147Q518,-1085 432,-1034.5Q346,-984 223,-938L223,-1112Q444,-1216 534,-1298Q624,-1380 679,-1466L763,-1466Z" fill="#262626" stroke="#262626" stroke-width="0.8" vector-effect="non-scaling-stroke" stroke-linejoin="round"/>
<text transform="translate(105.70,760.30) scale(1,1.025)" font-size="29.30" text-anchor="end" fill="#262626" stroke="#262626"> </text>
<text transform="translate(513.10,1300.40) scale(1,1.025)" font-size="32.20" fill="#262626" stroke="#262626">T (</text>
<text transform="translate(556.44,1296.90) scale(1,1.025)" font-size="26.00" fill="#262626" stroke="#262626">°</text>
<text transform="translate(567.40,1300.40) scale(1,1.025)" font-size="32.20" fill="#262626" stroke="#262626">C</text>
<text transform="translate(592.30,1300.40) scale(1,1.025)" font-size="32.20" fill="#262626" stroke="#262626">)</text>
<g transform="translate(36.90,1031.90) rotate(-90)">
<text transform="scale(1,1.025)" font-size="32.20" fill="#262626" stroke="#262626">q</text>
<text transform="translate(18.3,14) scale(1,1.025)" font-size="24.00" fill="#262626" stroke="#262626">3</text>
<text transform="translate(31.9,0) scale(1,1.025)" font-size="32.20" fill="#262626" stroke="#262626">(</text>
<text transform="translate(45.1,0) scale(1,1.025)" font-size="32.20" fill="#262626" stroke="#262626">T, SOC</text>
<text transform="translate(152.3,0) scale(1,1.025)" font-size="32.20" fill="#262626" stroke="#262626">)</text>
</g>
<text transform="translate(67.30,714.30) scale(1,0.970)" font-size="39.00" fill="#000" stroke="#000">b</text>
</svg>
</body></html>
